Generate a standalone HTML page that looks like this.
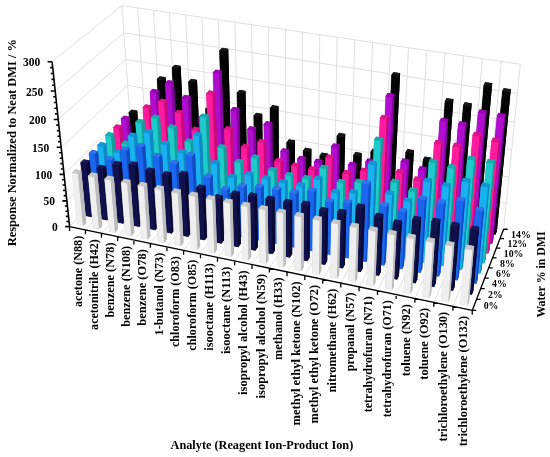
<!DOCTYPE html><html><head><meta charset="utf-8"><style>html,body{margin:0;padding:0;background:#fff;overflow:hidden}svg{display:block}</style></head><body><svg width="550" height="457" viewBox="0 0 550 457">
<rect width="550" height="457" fill="#fff"/>
<path d="M133.13 159.93L121.80 5.59M147.87 162.69L137.54 7.90M162.72 165.47L153.42 10.24M177.69 168.27L169.43 12.59M192.77 171.09L185.58 14.97M207.98 173.93L201.86 17.36M223.30 176.80L218.28 19.77M238.74 179.69L234.84 22.21M254.31 182.60L251.54 24.66M270.01 185.54L268.39 27.14M285.82 188.50L285.37 29.63M301.77 191.48L302.51 32.15M317.84 194.48L319.80 34.69M334.05 197.52L337.23 37.26M350.38 200.57L354.82 39.84M366.85 203.65L372.56 42.45M383.46 206.76L390.46 45.08M400.20 209.89L408.52 47.74M417.08 213.05L426.74 50.41M434.10 216.23L445.12 53.12M451.27 219.44L463.67 55.84M468.57 222.68L482.39 58.59M486.03 225.95L501.27 61.37M503.63 229.24L520.33 64.17M69.59 226.64L133.13 159.93L503.63 229.24M66.86 200.85L131.34 135.65L506.24 203.42M64.05 174.41L129.52 110.82L508.92 176.96M61.18 147.31L127.66 85.42L511.66 149.84M58.23 119.51L125.75 59.43L514.48 122.01M55.20 90.99L123.80 32.83L517.37 93.47M52.10 61.73L121.80 5.59L520.33 64.17M69.59 226.64L133.13 159.93M85.47 229.94L147.87 162.69M101.48 233.27L162.72 165.47M117.62 236.63L177.69 168.27M133.91 240.02L192.77 171.09M150.33 243.44L207.98 173.93M166.90 246.88L223.30 176.80M183.61 250.36L238.74 179.69M200.47 253.87L254.31 182.60M217.48 257.40L270.01 185.54M234.63 260.97L285.82 188.50M251.94 264.57L301.77 191.48M269.40 268.20L317.84 194.48M287.02 271.87L334.05 197.52M304.79 275.57L350.38 200.57M322.73 279.30L366.85 203.65M340.82 283.06L383.46 206.76M359.09 286.86L400.20 209.89M377.51 290.70L417.08 213.05M396.11 294.56L434.10 216.23M414.88 298.47L451.27 219.44M433.82 302.41L468.57 222.68M452.94 306.39L486.03 225.95M472.24 310.40L503.63 229.24" stroke="#e0e0e0" stroke-width="1" fill="none"/>
<polygon points="132.8,166.1 138.3,167.1 140.9,164.2 137.2,110.7 131.6,109.8 128.8,112.5" fill="#000000"/>
<polygon points="132.8,166.1 138.3,167.1 134.4,113.4 128.8,112.5" fill="#050505" stroke="#050505" stroke-width="0.35"/>
<polygon points="138.3,167.1 140.9,164.2 137.2,110.7 134.4,113.4" fill="#000000"/>
<polygon points="128.8,112.5 134.4,113.4 137.2,110.7 131.6,109.8" fill="#161616" stroke="#161616" stroke-width="0.35"/>
<polygon points="147.6,168.9 153.2,169.9 155.8,167.0 152.8,119.3 147.2,118.4 144.4,121.1" fill="#000000"/>
<polygon points="147.6,168.9 153.2,169.9 150.1,122.1 144.4,121.1" fill="#050505" stroke="#050505" stroke-width="0.35"/>
<polygon points="153.2,169.9 155.8,167.0 152.8,119.3 150.1,122.1" fill="#000000"/>
<polygon points="144.4,121.1 150.1,122.1 152.8,119.3 147.2,118.4" fill="#161616" stroke="#161616" stroke-width="0.35"/>
<polygon points="162.6,171.7 168.2,172.7 170.8,169.8 165.6,77.3 159.8,76.4 157.1,79.0" fill="#000000"/>
<polygon points="162.6,171.7 168.2,172.7 162.9,80.0 157.1,79.0" fill="#050505" stroke="#050505" stroke-width="0.35"/>
<polygon points="168.2,172.7 170.8,169.8 165.6,77.3 162.9,80.0" fill="#000000"/>
<polygon points="157.1,79.0 162.9,80.0 165.6,77.3 159.8,76.4" fill="#161616" stroke="#161616" stroke-width="0.35"/>
<polygon points="177.7,174.5 183.3,175.6 185.9,172.7 180.6,65.9 174.7,65.0 172.0,67.6" fill="#000000"/>
<polygon points="177.7,174.5 183.3,175.6 177.9,68.5 172.0,67.6" fill="#050505" stroke="#050505" stroke-width="0.35"/>
<polygon points="183.3,175.6 185.9,172.7 180.6,65.9 177.9,68.5" fill="#000000"/>
<polygon points="172.0,67.6 177.9,68.5 180.6,65.9 174.7,65.0" fill="#161616" stroke="#161616" stroke-width="0.35"/>
<polygon points="192.9,177.4 198.6,178.5 201.1,175.5 197.0,80.0 191.2,79.0 188.5,81.7" fill="#000000"/>
<polygon points="192.9,177.4 198.6,178.5 194.4,82.6 188.5,81.7" fill="#050505" stroke="#050505" stroke-width="0.35"/>
<polygon points="198.6,178.5 201.1,175.5 197.0,80.0 194.4,82.6" fill="#000000"/>
<polygon points="188.5,81.7 194.4,82.6 197.0,80.0 191.2,79.0" fill="#161616" stroke="#161616" stroke-width="0.35"/>
<polygon points="208.3,180.3 214.0,181.4 216.4,178.4 213.9,107.2 208.0,106.2 205.5,109.0" fill="#000000"/>
<polygon points="208.3,180.3 214.0,181.4 211.4,110.0 205.5,109.0" fill="#050505" stroke="#050505" stroke-width="0.35"/>
<polygon points="214.0,181.4 216.4,178.4 213.9,107.2 211.4,110.0" fill="#000000"/>
<polygon points="205.5,109.0 211.4,110.0 213.9,107.2 208.0,106.2" fill="#161616" stroke="#161616" stroke-width="0.35"/>
<polygon points="223.7,183.2 229.5,184.3 231.9,181.3 228.2,48.9 222.1,48.0 219.5,50.6" fill="#000000"/>
<polygon points="223.7,183.2 229.5,184.3 225.6,51.5 219.5,50.6" fill="#050505" stroke="#050505" stroke-width="0.35"/>
<polygon points="229.5,184.3 231.9,181.3 228.2,48.9 225.6,51.5" fill="#000000"/>
<polygon points="219.5,50.6 225.6,51.5 228.2,48.9 222.1,48.0" fill="#161616" stroke="#161616" stroke-width="0.35"/>
<polygon points="239.3,186.2 245.1,187.3 247.4,184.2 245.5,91.0 239.5,90.0 237.0,92.7" fill="#000000"/>
<polygon points="239.3,186.2 245.1,187.3 243.1,93.7 237.0,92.7" fill="#050505" stroke="#050505" stroke-width="0.35"/>
<polygon points="245.1,187.3 247.4,184.2 245.5,91.0 243.1,93.7" fill="#000000"/>
<polygon points="237.0,92.7 243.1,93.7 245.5,91.0 239.5,90.0" fill="#161616" stroke="#161616" stroke-width="0.35"/>
<polygon points="255.0,189.1 260.9,190.2 263.1,187.2 262.2,113.9 256.1,112.9 253.8,115.7" fill="#000000"/>
<polygon points="255.0,189.1 260.9,190.2 259.8,116.8 253.8,115.7" fill="#050505" stroke="#050505" stroke-width="0.35"/>
<polygon points="260.9,190.2 263.1,187.2 262.2,113.9 259.8,116.8" fill="#000000"/>
<polygon points="253.8,115.7 259.8,116.8 262.2,113.9 256.1,112.9" fill="#161616" stroke="#161616" stroke-width="0.35"/>
<polygon points="270.9,192.1 276.8,193.2 279.0,190.2 278.5,106.3 272.4,105.3 270.1,108.1" fill="#000000"/>
<polygon points="270.9,192.1 276.8,193.2 276.2,109.2 270.1,108.1" fill="#050505" stroke="#050505" stroke-width="0.35"/>
<polygon points="276.8,193.2 279.0,190.2 278.5,106.3 276.2,109.2" fill="#000000"/>
<polygon points="270.1,108.1 276.2,109.2 278.5,106.3 272.4,105.3" fill="#161616" stroke="#161616" stroke-width="0.35"/>
<polygon points="286.8,195.1 292.8,196.3 294.9,193.2 295.0,140.6 288.9,139.5 286.7,142.5" fill="#000000"/>
<polygon points="286.8,195.1 292.8,196.3 292.8,143.5 286.7,142.5" fill="#050505" stroke="#050505" stroke-width="0.35"/>
<polygon points="292.8,196.3 294.9,193.2 295.0,140.6 292.8,143.5" fill="#000000"/>
<polygon points="286.7,142.5 292.8,143.5 295.0,140.6 288.9,139.5" fill="#161616" stroke="#161616" stroke-width="0.35"/>
<polygon points="302.9,198.2 308.9,199.3 311.0,196.2 311.4,148.9 305.3,147.8 303.2,150.8" fill="#000000"/>
<polygon points="302.9,198.2 308.9,199.3 309.3,151.9 303.2,150.8" fill="#050505" stroke="#050505" stroke-width="0.35"/>
<polygon points="308.9,199.3 311.0,196.2 311.4,148.9 309.3,151.9" fill="#000000"/>
<polygon points="303.2,150.8 309.3,151.9 311.4,148.9 305.3,147.8" fill="#161616" stroke="#161616" stroke-width="0.35"/>
<polygon points="319.2,201.2 325.2,202.4 327.2,199.2 328.0,153.8 321.8,152.7 319.8,155.7" fill="#000000"/>
<polygon points="319.2,201.2 325.2,202.4 325.9,156.8 319.8,155.7" fill="#050505" stroke="#050505" stroke-width="0.35"/>
<polygon points="325.2,202.4 327.2,199.2 328.0,153.8 325.9,156.8" fill="#000000"/>
<polygon points="319.8,155.7 325.9,156.8 328.0,153.8 321.8,152.7" fill="#161616" stroke="#161616" stroke-width="0.35"/>
<polygon points="335.5,204.3 341.6,205.5 343.6,202.3 345.2,134.1 339.0,133.0 336.9,136.0" fill="#000000"/>
<polygon points="335.5,204.3 341.6,205.5 343.2,137.1 336.9,136.0" fill="#050505" stroke="#050505" stroke-width="0.35"/>
<polygon points="341.6,205.5 343.6,202.3 345.2,134.1 343.2,137.1" fill="#000000"/>
<polygon points="336.9,136.0 343.2,137.1 345.2,134.1 339.0,133.0" fill="#161616" stroke="#161616" stroke-width="0.35"/>
<polygon points="352.0,207.4 358.2,208.6 360.1,205.4 361.7,153.2 355.5,152.1 353.5,155.2" fill="#000000"/>
<polygon points="352.0,207.4 358.2,208.6 359.8,156.3 353.5,155.2" fill="#050505" stroke="#050505" stroke-width="0.35"/>
<polygon points="358.2,208.6 360.1,205.4 361.7,153.2 359.8,156.3" fill="#000000"/>
<polygon points="353.5,155.2 359.8,156.3 361.7,153.2 355.5,152.1" fill="#161616" stroke="#161616" stroke-width="0.35"/>
<polygon points="368.6,210.6 374.8,211.7 376.7,208.5 379.0,149.8 372.7,148.7 370.8,151.8" fill="#000000"/>
<polygon points="368.6,210.6 374.8,211.7 377.2,152.9 370.8,151.8" fill="#050505" stroke="#050505" stroke-width="0.35"/>
<polygon points="374.8,211.7 376.7,208.5 379.0,149.8 377.2,152.9" fill="#000000"/>
<polygon points="370.8,151.8 377.2,152.9 379.0,149.8 372.7,148.7" fill="#161616" stroke="#161616" stroke-width="0.35"/>
<polygon points="385.4,213.7 391.7,214.9 393.4,211.7 400.1,73.3 393.4,72.3 391.6,75.1" fill="#000000"/>
<polygon points="385.4,213.7 391.7,214.9 398.2,76.1 391.6,75.1" fill="#050505" stroke="#050505" stroke-width="0.35"/>
<polygon points="391.7,214.9 393.4,211.7 400.1,73.3 398.2,76.1" fill="#000000"/>
<polygon points="391.6,75.1 398.2,76.1 400.1,73.3 393.4,72.3" fill="#161616" stroke="#161616" stroke-width="0.35"/>
<polygon points="402.3,216.9 408.6,218.1 410.3,214.8 413.9,150.3 407.5,149.2 405.7,152.3" fill="#000000"/>
<polygon points="402.3,216.9 408.6,218.1 412.2,153.4 405.7,152.3" fill="#050505" stroke="#050505" stroke-width="0.35"/>
<polygon points="408.6,218.1 410.3,214.8 413.9,150.3 412.2,153.4" fill="#000000"/>
<polygon points="405.7,152.3 412.2,153.4 413.9,150.3 407.5,149.2" fill="#161616" stroke="#161616" stroke-width="0.35"/>
<polygon points="419.4,220.1 425.7,221.3 427.3,218.0 431.2,157.8 424.7,156.7 423.0,159.8" fill="#000000"/>
<polygon points="419.4,220.1 425.7,221.3 429.6,161.0 423.0,159.8" fill="#050505" stroke="#050505" stroke-width="0.35"/>
<polygon points="425.7,221.3 427.3,218.0 431.2,157.8 429.6,161.0" fill="#000000"/>
<polygon points="423.0,159.8 429.6,161.0 431.2,157.8 424.7,156.7" fill="#161616" stroke="#161616" stroke-width="0.35"/>
<polygon points="436.6,223.4 443.0,224.6 444.5,221.3 453.4,99.3 446.6,98.3 445.0,101.2" fill="#000000"/>
<polygon points="436.6,223.4 443.0,224.6 451.8,102.3 445.0,101.2" fill="#050505" stroke="#050505" stroke-width="0.35"/>
<polygon points="443.0,224.6 444.5,221.3 453.4,99.3 451.8,102.3" fill="#000000"/>
<polygon points="445.0,101.2 451.8,102.3 453.4,99.3 446.6,98.3" fill="#161616" stroke="#161616" stroke-width="0.35"/>
<polygon points="453.9,226.7 460.3,227.9 461.8,224.5 471.7,103.4 464.8,102.3 463.3,105.3" fill="#000000"/>
<polygon points="453.9,226.7 460.3,227.9 470.1,106.4 463.3,105.3" fill="#050505" stroke="#050505" stroke-width="0.35"/>
<polygon points="460.3,227.9 461.8,224.5 471.7,103.4 470.1,106.4" fill="#000000"/>
<polygon points="463.3,105.3 470.1,106.4 471.7,103.4 464.8,102.3" fill="#161616" stroke="#161616" stroke-width="0.35"/>
<polygon points="471.4,230.0 477.9,231.2 479.3,227.8 492.2,83.3 485.3,82.3 483.8,85.2" fill="#000000"/>
<polygon points="471.4,230.0 477.9,231.2 490.8,86.3 483.8,85.2" fill="#050505" stroke="#050505" stroke-width="0.35"/>
<polygon points="477.9,231.2 479.3,227.8 492.2,83.3 490.8,86.3" fill="#000000"/>
<polygon points="483.8,85.2 490.8,86.3 492.2,83.3 485.3,82.3" fill="#161616" stroke="#161616" stroke-width="0.35"/>
<polygon points="489.0,233.3 495.6,234.5 496.9,231.1 510.8,89.3 503.8,88.2 502.4,91.2" fill="#000000"/>
<polygon points="489.0,233.3 495.6,234.5 509.5,92.3 502.4,91.2" fill="#050505" stroke="#050505" stroke-width="0.35"/>
<polygon points="495.6,234.5 496.9,231.1 510.8,89.3 509.5,92.3" fill="#000000"/>
<polygon points="502.4,91.2 509.5,92.3 510.8,89.3 503.8,88.2" fill="#161616" stroke="#161616" stroke-width="0.35"/>
<polygon points="125.4,173.9 130.9,175.0 133.7,172.0 129.6,116.8 123.9,115.8 121.1,118.6" fill="#8600a2"/>
<polygon points="125.4,173.9 130.9,175.0 126.8,119.6 121.1,118.6" fill="#b00dd0" stroke="#b00dd0" stroke-width="0.35"/>
<polygon points="130.9,175.0 133.7,172.0 129.6,116.8 126.8,119.6" fill="#8600a2"/>
<polygon points="121.1,118.6 126.8,119.6 129.6,116.8 123.9,115.8" fill="#9a06b8" stroke="#9a06b8" stroke-width="0.35"/>
<polygon points="140.4,176.8 146.0,177.8 148.6,174.9 145.4,126.8 139.8,125.8 137.0,128.6" fill="#8600a2"/>
<polygon points="140.4,176.8 146.0,177.8 142.7,129.7 137.0,128.6" fill="#b00dd0" stroke="#b00dd0" stroke-width="0.35"/>
<polygon points="146.0,177.8 148.6,174.9 145.4,126.8 142.7,129.7" fill="#8600a2"/>
<polygon points="137.0,128.6 142.7,129.7 145.4,126.8 139.8,125.8" fill="#9a06b8" stroke="#9a06b8" stroke-width="0.35"/>
<polygon points="155.5,179.7 161.1,180.7 163.8,177.8 158.5,90.1 152.7,89.1 149.9,91.8" fill="#8600a2"/>
<polygon points="155.5,179.7 161.1,180.7 155.8,92.8 149.9,91.8" fill="#b00dd0" stroke="#b00dd0" stroke-width="0.35"/>
<polygon points="161.1,180.7 163.8,177.8 158.5,90.1 155.8,92.8" fill="#8600a2"/>
<polygon points="149.9,91.8 155.8,92.8 158.5,90.1 152.7,89.1" fill="#9a06b8" stroke="#9a06b8" stroke-width="0.35"/>
<polygon points="170.7,182.6 176.4,183.7 179.0,180.7 173.8,81.3 167.9,80.3 165.1,83.0" fill="#8600a2"/>
<polygon points="170.7,182.6 176.4,183.7 171.0,84.0 165.1,83.0" fill="#b00dd0" stroke="#b00dd0" stroke-width="0.35"/>
<polygon points="176.4,183.7 179.0,180.7 173.8,81.3 171.0,84.0" fill="#8600a2"/>
<polygon points="165.1,83.0 171.0,84.0 173.8,81.3 167.9,80.3" fill="#9a06b8" stroke="#9a06b8" stroke-width="0.35"/>
<polygon points="186.1,185.5 191.8,186.6 194.3,183.6 190.4,96.0 184.4,95.0 181.8,97.8" fill="#8600a2"/>
<polygon points="186.1,185.5 191.8,186.6 187.7,98.8 181.8,97.8" fill="#b00dd0" stroke="#b00dd0" stroke-width="0.35"/>
<polygon points="191.8,186.6 194.3,183.6 190.4,96.0 187.7,98.8" fill="#8600a2"/>
<polygon points="181.8,97.8 187.7,98.8 190.4,96.0 184.4,95.0" fill="#9a06b8" stroke="#9a06b8" stroke-width="0.35"/>
<polygon points="201.6,188.5 207.4,189.6 209.8,186.5 207.1,115.6 201.2,114.6 198.6,117.4" fill="#8600a2"/>
<polygon points="201.6,188.5 207.4,189.6 204.5,118.4 198.6,117.4" fill="#b00dd0" stroke="#b00dd0" stroke-width="0.35"/>
<polygon points="207.4,189.6 209.8,186.5 207.1,115.6 204.5,118.4" fill="#8600a2"/>
<polygon points="198.6,117.4 204.5,118.4 207.1,115.6 201.2,114.6" fill="#9a06b8" stroke="#9a06b8" stroke-width="0.35"/>
<polygon points="217.2,191.4 223.0,192.6 225.4,189.5 221.7,70.7 215.6,69.8 213.0,72.5" fill="#8600a2"/>
<polygon points="217.2,191.4 223.0,192.6 219.2,73.5 213.0,72.5" fill="#b00dd0" stroke="#b00dd0" stroke-width="0.35"/>
<polygon points="223.0,192.6 225.4,189.5 221.7,70.7 219.2,73.5" fill="#8600a2"/>
<polygon points="213.0,72.5 219.2,73.5 221.7,70.7 215.6,69.8" fill="#9a06b8" stroke="#9a06b8" stroke-width="0.35"/>
<polygon points="232.9,194.5 238.8,195.6 241.2,192.5 239.1,108.0 233.1,107.0 230.6,109.9" fill="#8600a2"/>
<polygon points="232.9,194.5 238.8,195.6 236.7,110.9 230.6,109.9" fill="#b00dd0" stroke="#b00dd0" stroke-width="0.35"/>
<polygon points="238.8,195.6 241.2,192.5 239.1,108.0 236.7,110.9" fill="#8600a2"/>
<polygon points="230.6,109.9 236.7,110.9 239.1,108.0 233.1,107.0" fill="#9a06b8" stroke="#9a06b8" stroke-width="0.35"/>
<polygon points="248.8,197.5 254.7,198.6 257.0,195.5 255.9,127.4 249.8,126.3 247.4,129.2" fill="#8600a2"/>
<polygon points="248.8,197.5 254.7,198.6 253.5,130.3 247.4,129.2" fill="#b00dd0" stroke="#b00dd0" stroke-width="0.35"/>
<polygon points="254.7,198.6 257.0,195.5 255.9,127.4 253.5,130.3" fill="#8600a2"/>
<polygon points="247.4,129.2 253.5,130.3 255.9,127.4 249.8,126.3" fill="#9a06b8" stroke="#9a06b8" stroke-width="0.35"/>
<polygon points="264.8,200.5 270.7,201.7 273.0,198.5 272.3,122.3 266.2,121.3 263.8,124.2" fill="#8600a2"/>
<polygon points="264.8,200.5 270.7,201.7 270.0,125.3 263.8,124.2" fill="#b00dd0" stroke="#b00dd0" stroke-width="0.35"/>
<polygon points="270.7,201.7 273.0,198.5 272.3,122.3 270.0,125.3" fill="#8600a2"/>
<polygon points="263.8,124.2 270.0,125.3 272.3,122.3 266.2,121.3" fill="#9a06b8" stroke="#9a06b8" stroke-width="0.35"/>
<polygon points="280.9,203.6 286.9,204.8 289.1,201.6 289.0,149.4 282.9,148.3 280.6,151.3" fill="#8600a2"/>
<polygon points="280.9,203.6 286.9,204.8 286.8,152.4 280.6,151.3" fill="#b00dd0" stroke="#b00dd0" stroke-width="0.35"/>
<polygon points="286.9,204.8 289.1,201.6 289.0,149.4 286.8,152.4" fill="#8600a2"/>
<polygon points="280.6,151.3 286.8,152.4 289.0,149.4 282.9,148.3" fill="#9a06b8" stroke="#9a06b8" stroke-width="0.35"/>
<polygon points="297.2,206.7 303.2,207.9 305.3,204.7 305.7,157.0 299.5,155.9 297.3,159.0" fill="#8600a2"/>
<polygon points="297.2,206.7 303.2,207.9 303.5,160.1 297.3,159.0" fill="#b00dd0" stroke="#b00dd0" stroke-width="0.35"/>
<polygon points="303.2,207.9 305.3,204.7 305.7,157.0 303.5,160.1" fill="#8600a2"/>
<polygon points="297.3,159.0 303.5,160.1 305.7,157.0 299.5,155.9" fill="#9a06b8" stroke="#9a06b8" stroke-width="0.35"/>
<polygon points="313.6,209.9 319.7,211.0 321.7,207.8 322.4,159.9 316.2,158.8 314.1,161.9" fill="#8600a2"/>
<polygon points="313.6,209.9 319.7,211.0 320.3,163.0 314.1,161.9" fill="#b00dd0" stroke="#b00dd0" stroke-width="0.35"/>
<polygon points="319.7,211.0 321.7,207.8 322.4,159.9 320.3,163.0" fill="#8600a2"/>
<polygon points="314.1,161.9 320.3,163.0 322.4,159.9 316.2,158.8" fill="#9a06b8" stroke="#9a06b8" stroke-width="0.35"/>
<polygon points="330.1,213.0 336.2,214.2 338.2,210.9 339.7,144.6 333.4,143.5 331.3,146.6" fill="#8600a2"/>
<polygon points="330.1,213.0 336.2,214.2 337.6,147.7 331.3,146.6" fill="#b00dd0" stroke="#b00dd0" stroke-width="0.35"/>
<polygon points="336.2,214.2 338.2,210.9 339.7,144.6 337.6,147.7" fill="#8600a2"/>
<polygon points="331.3,146.6 337.6,147.7 339.7,144.6 333.4,143.5" fill="#9a06b8" stroke="#9a06b8" stroke-width="0.35"/>
<polygon points="346.8,216.2 353.0,217.4 354.9,214.1 356.4,163.0 350.1,161.9 348.1,165.0" fill="#8600a2"/>
<polygon points="346.8,216.2 353.0,217.4 354.4,166.2 348.1,165.0" fill="#b00dd0" stroke="#b00dd0" stroke-width="0.35"/>
<polygon points="353.0,217.4 354.9,214.1 356.4,163.0 354.4,166.2" fill="#8600a2"/>
<polygon points="348.1,165.0 354.4,166.2 356.4,163.0 350.1,161.9" fill="#9a06b8" stroke="#9a06b8" stroke-width="0.35"/>
<polygon points="363.6,219.4 369.8,220.6 371.7,217.3 373.9,159.7 367.5,158.6 365.5,161.8" fill="#8600a2"/>
<polygon points="363.6,219.4 369.8,220.6 372.0,162.9 365.5,161.8" fill="#b00dd0" stroke="#b00dd0" stroke-width="0.35"/>
<polygon points="369.8,220.6 371.7,217.3 373.9,159.7 372.0,162.9" fill="#8600a2"/>
<polygon points="365.5,161.8 372.0,162.9 373.9,159.7 367.5,158.6" fill="#9a06b8" stroke="#9a06b8" stroke-width="0.35"/>
<polygon points="380.5,222.7 386.8,223.9 388.6,220.5 394.4,94.1 387.8,93.1 385.8,96.0" fill="#8600a2"/>
<polygon points="380.5,222.7 386.8,223.9 392.5,97.1 385.8,96.0" fill="#b00dd0" stroke="#b00dd0" stroke-width="0.35"/>
<polygon points="386.8,223.9 388.6,220.5 394.4,94.1 392.5,97.1" fill="#8600a2"/>
<polygon points="385.8,96.0 392.5,97.1 394.4,94.1 387.8,93.1" fill="#9a06b8" stroke="#9a06b8" stroke-width="0.35"/>
<polygon points="397.6,225.9 403.9,227.1 405.7,223.8 409.2,159.7 402.6,158.6 400.8,161.7" fill="#8600a2"/>
<polygon points="397.6,225.9 403.9,227.1 407.4,162.9 400.8,161.7" fill="#b00dd0" stroke="#b00dd0" stroke-width="0.35"/>
<polygon points="403.9,227.1 405.7,223.8 409.2,159.7 407.4,162.9" fill="#8600a2"/>
<polygon points="400.8,161.7 407.4,162.9 409.2,159.7 402.6,158.6" fill="#9a06b8" stroke="#9a06b8" stroke-width="0.35"/>
<polygon points="414.8,229.2 421.2,230.4 422.9,227.0 426.6,167.3 420.1,166.2 418.3,169.4" fill="#8600a2"/>
<polygon points="414.8,229.2 421.2,230.4 424.9,170.6 418.3,169.4" fill="#b00dd0" stroke="#b00dd0" stroke-width="0.35"/>
<polygon points="421.2,230.4 422.9,227.0 426.6,167.3 424.9,170.6" fill="#8600a2"/>
<polygon points="418.3,169.4 424.9,170.6 426.6,167.3 420.1,166.2" fill="#9a06b8" stroke="#9a06b8" stroke-width="0.35"/>
<polygon points="432.2,232.5 438.7,233.8 440.3,230.4 448.2,119.0 441.4,117.9 439.7,121.0" fill="#8600a2"/>
<polygon points="432.2,232.5 438.7,233.8 446.5,122.1 439.7,121.0" fill="#b00dd0" stroke="#b00dd0" stroke-width="0.35"/>
<polygon points="438.7,233.8 440.3,230.4 448.2,119.0 446.5,122.1" fill="#8600a2"/>
<polygon points="439.7,121.0 446.5,122.1 448.2,119.0 441.4,117.9" fill="#9a06b8" stroke="#9a06b8" stroke-width="0.35"/>
<polygon points="449.7,235.9 456.2,237.1 457.8,233.7 466.6,122.4 459.8,121.3 458.2,124.4" fill="#8600a2"/>
<polygon points="449.7,235.9 456.2,237.1 465.0,125.5 458.2,124.4" fill="#b00dd0" stroke="#b00dd0" stroke-width="0.35"/>
<polygon points="456.2,237.1 457.8,233.7 466.6,122.4 465.0,125.5" fill="#8600a2"/>
<polygon points="458.2,124.4 465.0,125.5 466.6,122.4 459.8,121.3" fill="#9a06b8" stroke="#9a06b8" stroke-width="0.35"/>
<polygon points="467.4,239.3 474.0,240.5 475.4,237.0 486.6,110.7 479.6,109.6 478.1,112.7" fill="#8600a2"/>
<polygon points="467.4,239.3 474.0,240.5 485.1,113.8 478.1,112.7" fill="#b00dd0" stroke="#b00dd0" stroke-width="0.35"/>
<polygon points="474.0,240.5 475.4,237.0 486.6,110.7 485.1,113.8" fill="#8600a2"/>
<polygon points="478.1,112.7 485.1,113.8 486.6,110.7 479.6,109.6" fill="#9a06b8" stroke="#9a06b8" stroke-width="0.35"/>
<polygon points="485.2,242.7 491.9,243.9 493.2,240.4 505.5,114.1 498.4,112.9 497.0,116.1" fill="#8600a2"/>
<polygon points="485.2,242.7 491.9,243.9 504.1,117.2 497.0,116.1" fill="#b00dd0" stroke="#b00dd0" stroke-width="0.35"/>
<polygon points="491.9,243.9 493.2,240.4 505.5,114.1 504.1,117.2" fill="#8600a2"/>
<polygon points="497.0,116.1 504.1,117.2 505.5,114.1 498.4,112.9" fill="#9a06b8" stroke="#9a06b8" stroke-width="0.35"/>
<polygon points="117.8,181.9 123.4,183.0 126.2,180.0 122.0,125.6 116.3,124.5 113.4,127.4" fill="#c50c78"/>
<polygon points="117.8,181.9 123.4,183.0 119.1,128.4 113.4,127.4" fill="#ff1a9e" stroke="#ff1a9e" stroke-width="0.35"/>
<polygon points="123.4,183.0 126.2,180.0 122.0,125.6 119.1,128.4" fill="#c50c78"/>
<polygon points="113.4,127.4 119.1,128.4 122.0,125.6 116.3,124.5" fill="#e0138a" stroke="#e0138a" stroke-width="0.35"/>
<polygon points="133.0,184.8 138.6,185.9 141.3,182.9 137.9,134.5 132.2,133.5 129.3,136.3" fill="#c50c78"/>
<polygon points="133.0,184.8 138.6,185.9 135.1,137.4 129.3,136.3" fill="#ff1a9e" stroke="#ff1a9e" stroke-width="0.35"/>
<polygon points="138.6,185.9 141.3,182.9 137.9,134.5 135.1,137.4" fill="#c50c78"/>
<polygon points="129.3,136.3 135.1,137.4 137.9,134.5 132.2,133.5" fill="#e0138a" stroke="#e0138a" stroke-width="0.35"/>
<polygon points="148.2,187.8 153.9,188.9 156.6,185.9 151.5,105.4 145.6,104.4 142.8,107.2" fill="#c50c78"/>
<polygon points="148.2,187.8 153.9,188.9 148.7,108.2 142.8,107.2" fill="#ff1a9e" stroke="#ff1a9e" stroke-width="0.35"/>
<polygon points="153.9,188.9 156.6,185.9 151.5,105.4 148.7,108.2" fill="#c50c78"/>
<polygon points="142.8,107.2 148.7,108.2 151.5,105.4 145.6,104.4" fill="#e0138a" stroke="#e0138a" stroke-width="0.35"/>
<polygon points="163.6,190.8 169.3,191.9 172.0,188.8 167.0,99.7 161.0,98.7 158.2,101.5" fill="#c50c78"/>
<polygon points="163.6,190.8 169.3,191.9 164.2,102.5 158.2,101.5" fill="#ff1a9e" stroke="#ff1a9e" stroke-width="0.35"/>
<polygon points="169.3,191.9 172.0,188.8 167.0,99.7 164.2,102.5" fill="#c50c78"/>
<polygon points="158.2,101.5 164.2,102.5 167.0,99.7 161.0,98.7" fill="#e0138a" stroke="#e0138a" stroke-width="0.35"/>
<polygon points="179.1,193.8 184.9,194.9 187.5,191.8 183.5,110.9 177.5,109.9 174.8,112.7" fill="#c50c78"/>
<polygon points="179.1,193.8 184.9,194.9 180.8,113.8 174.8,112.7" fill="#ff1a9e" stroke="#ff1a9e" stroke-width="0.35"/>
<polygon points="184.9,194.9 187.5,191.8 183.5,110.9 180.8,113.8" fill="#c50c78"/>
<polygon points="174.8,112.7 180.8,113.8 183.5,110.9 177.5,109.9" fill="#e0138a" stroke="#e0138a" stroke-width="0.35"/>
<polygon points="194.7,196.8 200.6,197.9 203.1,194.8 200.3,127.9 194.3,126.8 191.7,129.7" fill="#c50c78"/>
<polygon points="194.7,196.8 200.6,197.9 197.7,130.8 191.7,129.7" fill="#ff1a9e" stroke="#ff1a9e" stroke-width="0.35"/>
<polygon points="200.6,197.9 203.1,194.8 200.3,127.9 197.7,130.8" fill="#c50c78"/>
<polygon points="191.7,129.7 197.7,130.8 200.3,127.9 194.3,126.8" fill="#e0138a" stroke="#e0138a" stroke-width="0.35"/>
<polygon points="210.5,199.9 216.4,201.0 218.8,197.8 215.2,91.6 209.1,90.6 206.4,93.4" fill="#c50c78"/>
<polygon points="210.5,199.9 216.4,201.0 212.6,94.4 206.4,93.4" fill="#ff1a9e" stroke="#ff1a9e" stroke-width="0.35"/>
<polygon points="216.4,201.0 218.8,197.8 215.2,91.6 212.6,94.4" fill="#c50c78"/>
<polygon points="206.4,93.4 212.6,94.4 215.2,91.6 209.1,90.6" fill="#e0138a" stroke="#e0138a" stroke-width="0.35"/>
<polygon points="226.4,202.9 232.3,204.1 234.7,200.9 232.7,127.4 226.6,126.3 224.1,129.3" fill="#c50c78"/>
<polygon points="226.4,202.9 232.3,204.1 230.2,130.3 224.1,129.3" fill="#ff1a9e" stroke="#ff1a9e" stroke-width="0.35"/>
<polygon points="232.3,204.1 234.7,200.9 232.7,127.4 230.2,130.3" fill="#c50c78"/>
<polygon points="224.1,129.3 230.2,130.3 232.7,127.4 226.6,126.3" fill="#e0138a" stroke="#e0138a" stroke-width="0.35"/>
<polygon points="242.4,206.0 248.4,207.2 250.7,204.0 249.6,145.0 243.5,143.9 241.0,146.9" fill="#c50c78"/>
<polygon points="242.4,206.0 248.4,207.2 247.2,148.0 241.0,146.9" fill="#ff1a9e" stroke="#ff1a9e" stroke-width="0.35"/>
<polygon points="248.4,207.2 250.7,204.0 249.6,145.0 247.2,148.0" fill="#c50c78"/>
<polygon points="241.0,146.9 247.2,148.0 249.6,145.0 243.5,143.9" fill="#e0138a" stroke="#e0138a" stroke-width="0.35"/>
<polygon points="258.6,209.2 264.6,210.3 266.9,207.1 266.1,140.2 259.9,139.1 257.5,142.1" fill="#c50c78"/>
<polygon points="258.6,209.2 264.6,210.3 263.7,143.2 257.5,142.1" fill="#ff1a9e" stroke="#ff1a9e" stroke-width="0.35"/>
<polygon points="264.6,210.3 266.9,207.1 266.1,140.2 263.7,143.2" fill="#c50c78"/>
<polygon points="257.5,142.1 263.7,143.2 266.1,140.2 259.9,139.1" fill="#e0138a" stroke="#e0138a" stroke-width="0.35"/>
<polygon points="274.8,212.3 280.9,213.5 283.1,210.2 282.9,159.2 276.8,158.1 274.4,161.2" fill="#c50c78"/>
<polygon points="274.8,212.3 280.9,213.5 280.6,162.3 274.4,161.2" fill="#ff1a9e" stroke="#ff1a9e" stroke-width="0.35"/>
<polygon points="280.9,213.5 283.1,210.2 282.9,159.2 280.6,162.3" fill="#c50c78"/>
<polygon points="274.4,161.2 280.6,162.3 282.9,159.2 276.8,158.1" fill="#e0138a" stroke="#e0138a" stroke-width="0.35"/>
<polygon points="291.3,215.5 297.4,216.7 299.6,213.4 299.7,163.7 293.5,162.5 291.3,165.7" fill="#c50c78"/>
<polygon points="291.3,215.5 297.4,216.7 297.5,166.8 291.3,165.7" fill="#ff1a9e" stroke="#ff1a9e" stroke-width="0.35"/>
<polygon points="297.4,216.7 299.6,213.4 299.7,163.7 297.5,166.8" fill="#c50c78"/>
<polygon points="291.3,165.7 297.5,166.8 299.7,163.7 293.5,162.5" fill="#e0138a" stroke="#e0138a" stroke-width="0.35"/>
<polygon points="307.8,218.7 314.0,219.9 316.1,216.6 316.7,167.3 310.4,166.2 308.2,169.4" fill="#c50c78"/>
<polygon points="307.8,218.7 314.0,219.9 314.5,170.5 308.2,169.4" fill="#ff1a9e" stroke="#ff1a9e" stroke-width="0.35"/>
<polygon points="314.0,219.9 316.1,216.6 316.7,167.3 314.5,170.5" fill="#c50c78"/>
<polygon points="308.2,169.4 314.5,170.5 316.7,167.3 310.4,166.2" fill="#e0138a" stroke="#e0138a" stroke-width="0.35"/>
<polygon points="324.5,221.9 330.7,223.1 332.8,219.8 334.0,155.5 327.7,154.4 325.5,157.5" fill="#c50c78"/>
<polygon points="324.5,221.9 330.7,223.1 331.9,158.7 325.5,157.5" fill="#ff1a9e" stroke="#ff1a9e" stroke-width="0.35"/>
<polygon points="330.7,223.1 332.8,219.8 334.0,155.5 331.9,158.7" fill="#c50c78"/>
<polygon points="325.5,157.5 331.9,158.7 334.0,155.5 327.7,154.4" fill="#e0138a" stroke="#e0138a" stroke-width="0.35"/>
<polygon points="341.4,225.2 347.6,226.4 349.6,223.0 351.0,171.1 344.6,170.0 342.6,173.2" fill="#c50c78"/>
<polygon points="341.4,225.2 347.6,226.4 349.0,174.3 342.6,173.2" fill="#ff1a9e" stroke="#ff1a9e" stroke-width="0.35"/>
<polygon points="347.6,226.4 349.6,223.0 351.0,171.1 349.0,174.3" fill="#c50c78"/>
<polygon points="342.6,173.2 349.0,174.3 351.0,171.1 344.6,170.0" fill="#e0138a" stroke="#e0138a" stroke-width="0.35"/>
<polygon points="358.3,228.5 364.7,229.7 366.6,226.3 368.6,168.9 362.2,167.8 360.2,171.0" fill="#c50c78"/>
<polygon points="358.3,228.5 364.7,229.7 366.7,172.2 360.2,171.0" fill="#ff1a9e" stroke="#ff1a9e" stroke-width="0.35"/>
<polygon points="364.7,229.7 366.6,226.3 368.6,168.9 366.7,172.2" fill="#c50c78"/>
<polygon points="360.2,171.0 366.7,172.2 368.6,168.9 362.2,167.8" fill="#e0138a" stroke="#e0138a" stroke-width="0.35"/>
<polygon points="375.5,231.8 381.8,233.0 383.7,229.6 388.7,116.0 382.0,114.9 380.0,118.0" fill="#c50c78"/>
<polygon points="375.5,231.8 381.8,233.0 386.7,119.1 380.0,118.0" fill="#ff1a9e" stroke="#ff1a9e" stroke-width="0.35"/>
<polygon points="381.8,233.0 383.7,229.6 388.7,116.0 386.7,119.1" fill="#c50c78"/>
<polygon points="380.0,118.0 386.7,119.1 388.7,116.0 382.0,114.9" fill="#e0138a" stroke="#e0138a" stroke-width="0.35"/>
<polygon points="392.7,235.1 399.2,236.4 400.9,232.9 404.2,170.3 397.6,169.1 395.8,172.4" fill="#c50c78"/>
<polygon points="392.7,235.1 399.2,236.4 402.4,173.5 395.8,172.4" fill="#ff1a9e" stroke="#ff1a9e" stroke-width="0.35"/>
<polygon points="399.2,236.4 400.9,232.9 404.2,170.3 402.4,173.5" fill="#c50c78"/>
<polygon points="395.8,172.4 402.4,173.5 404.2,170.3 397.6,169.1" fill="#e0138a" stroke="#e0138a" stroke-width="0.35"/>
<polygon points="410.2,238.5 416.6,239.8 418.3,236.3 421.9,177.7 415.3,176.5 413.5,179.8" fill="#c50c78"/>
<polygon points="410.2,238.5 416.6,239.8 420.2,181.0 413.5,179.8" fill="#ff1a9e" stroke="#ff1a9e" stroke-width="0.35"/>
<polygon points="416.6,239.8 418.3,236.3 421.9,177.7 420.2,181.0" fill="#c50c78"/>
<polygon points="413.5,179.8 420.2,181.0 421.9,177.7 415.3,176.5" fill="#e0138a" stroke="#e0138a" stroke-width="0.35"/>
<polygon points="427.7,241.9 434.3,243.2 435.9,239.7 442.7,141.1 435.9,140.0 434.2,143.2" fill="#c50c78"/>
<polygon points="427.7,241.9 434.3,243.2 441.0,144.3 434.2,143.2" fill="#ff1a9e" stroke="#ff1a9e" stroke-width="0.35"/>
<polygon points="434.3,243.2 435.9,239.7 442.7,141.1 441.0,144.3" fill="#c50c78"/>
<polygon points="434.2,143.2 441.0,144.3 442.7,141.1 435.9,140.0" fill="#e0138a" stroke="#e0138a" stroke-width="0.35"/>
<polygon points="445.4,245.3 452.0,246.6 453.6,243.1 461.3,143.9 454.4,142.8 452.8,146.0" fill="#c50c78"/>
<polygon points="445.4,245.3 452.0,246.6 459.7,147.2 452.8,146.0" fill="#ff1a9e" stroke="#ff1a9e" stroke-width="0.35"/>
<polygon points="452.0,246.6 453.6,243.1 461.3,143.9 459.7,147.2" fill="#c50c78"/>
<polygon points="452.8,146.0 459.7,147.2 461.3,143.9 454.4,142.8" fill="#e0138a" stroke="#e0138a" stroke-width="0.35"/>
<polygon points="463.3,248.8 470.0,250.1 471.5,246.5 481.3,133.0 474.3,131.9 472.7,135.1" fill="#c50c78"/>
<polygon points="463.3,248.8 470.0,250.1 479.8,136.2 472.7,135.1" fill="#ff1a9e" stroke="#ff1a9e" stroke-width="0.35"/>
<polygon points="470.0,250.1 471.5,246.5 481.3,133.0 479.8,136.2" fill="#c50c78"/>
<polygon points="472.7,135.1 479.8,136.2 481.3,133.0 474.3,131.9" fill="#e0138a" stroke="#e0138a" stroke-width="0.35"/>
<polygon points="481.3,252.3 488.1,253.6 489.5,250.0 500.1,138.9 493.0,137.8 491.5,141.0" fill="#c50c78"/>
<polygon points="481.3,252.3 488.1,253.6 498.6,142.2 491.5,141.0" fill="#ff1a9e" stroke="#ff1a9e" stroke-width="0.35"/>
<polygon points="488.1,253.6 489.5,250.0 500.1,138.9 498.6,142.2" fill="#c50c78"/>
<polygon points="491.5,141.0 498.6,142.2 500.1,138.9 493.0,137.8" fill="#e0138a" stroke="#e0138a" stroke-width="0.35"/>
<polygon points="110.1,190.1 115.7,191.2 118.6,188.1 114.1,133.3 108.4,132.2 105.4,135.1" fill="#129c9c"/>
<polygon points="110.1,190.1 115.7,191.2 111.2,136.2 105.4,135.1" fill="#1fcaca" stroke="#1fcaca" stroke-width="0.35"/>
<polygon points="115.7,191.2 118.6,188.1 114.1,133.3 111.2,136.2" fill="#129c9c"/>
<polygon points="105.4,135.1 111.2,136.2 114.1,133.3 108.4,132.2" fill="#19acac" stroke="#19acac" stroke-width="0.35"/>
<polygon points="125.4,193.1 131.0,194.2 133.9,191.1 130.2,141.6 124.4,140.5 121.5,143.4" fill="#129c9c"/>
<polygon points="125.4,193.1 131.0,194.2 127.3,144.5 121.5,143.4" fill="#1fcaca" stroke="#1fcaca" stroke-width="0.35"/>
<polygon points="131.0,194.2 133.9,191.1 130.2,141.6 127.3,144.5" fill="#129c9c"/>
<polygon points="121.5,143.4 127.3,144.5 130.2,141.6 124.4,140.5" fill="#19acac" stroke="#19acac" stroke-width="0.35"/>
<polygon points="140.8,196.1 146.5,197.2 149.2,194.1 144.3,120.1 138.4,119.1 135.5,122.0" fill="#129c9c"/>
<polygon points="140.8,196.1 146.5,197.2 141.4,123.0 135.5,122.0" fill="#1fcaca" stroke="#1fcaca" stroke-width="0.35"/>
<polygon points="146.5,197.2 149.2,194.1 144.3,120.1 141.4,123.0" fill="#129c9c"/>
<polygon points="135.5,122.0 141.4,123.0 144.3,120.1 138.4,119.1" fill="#19acac" stroke="#19acac" stroke-width="0.35"/>
<polygon points="156.3,199.2 162.1,200.3 164.8,197.2 159.9,115.8 153.9,114.7 151.1,117.6" fill="#129c9c"/>
<polygon points="156.3,199.2 162.1,200.3 157.1,118.7 151.1,117.6" fill="#1fcaca" stroke="#1fcaca" stroke-width="0.35"/>
<polygon points="162.1,200.3 164.8,197.2 159.9,115.8 157.1,118.7" fill="#129c9c"/>
<polygon points="151.1,117.6 157.1,118.7 159.9,115.8 153.9,114.7" fill="#19acac" stroke="#19acac" stroke-width="0.35"/>
<polygon points="171.9,202.2 177.8,203.4 180.4,200.2 176.5,125.5 170.5,124.5 167.7,127.4" fill="#129c9c"/>
<polygon points="171.9,202.2 177.8,203.4 173.7,128.5 167.7,127.4" fill="#1fcaca" stroke="#1fcaca" stroke-width="0.35"/>
<polygon points="177.8,203.4 180.4,200.2 176.5,125.5 173.7,128.5" fill="#129c9c"/>
<polygon points="167.7,127.4 173.7,128.5 176.5,125.5 170.5,124.5" fill="#19acac" stroke="#19acac" stroke-width="0.35"/>
<polygon points="187.7,205.3 193.6,206.5 196.2,203.3 193.3,139.6 187.3,138.5 184.6,141.5" fill="#129c9c"/>
<polygon points="187.7,205.3 193.6,206.5 190.6,142.6 184.6,141.5" fill="#1fcaca" stroke="#1fcaca" stroke-width="0.35"/>
<polygon points="193.6,206.5 196.2,203.3 193.3,139.6 190.6,142.6" fill="#129c9c"/>
<polygon points="184.6,141.5 190.6,142.6 193.3,139.6 187.3,138.5" fill="#19acac" stroke="#19acac" stroke-width="0.35"/>
<polygon points="203.6,208.5 209.6,209.6 212.1,206.4 208.6,114.8 202.5,113.7 199.8,116.6" fill="#129c9c"/>
<polygon points="203.6,208.5 209.6,209.6 206.0,117.7 199.8,116.6" fill="#1fcaca" stroke="#1fcaca" stroke-width="0.35"/>
<polygon points="209.6,209.6 212.1,206.4 208.6,114.8 206.0,117.7" fill="#129c9c"/>
<polygon points="199.8,116.6 206.0,117.7 208.6,114.8 202.5,113.7" fill="#19acac" stroke="#19acac" stroke-width="0.35"/>
<polygon points="219.7,211.6 225.7,212.8 228.1,209.5 226.2,145.3 220.1,144.2 217.5,147.2" fill="#129c9c"/>
<polygon points="219.7,211.6 225.7,212.8 223.6,148.3 217.5,147.2" fill="#1fcaca" stroke="#1fcaca" stroke-width="0.35"/>
<polygon points="225.7,212.8 228.1,209.5 226.2,145.3 223.6,148.3" fill="#129c9c"/>
<polygon points="217.5,147.2 223.6,148.3 226.2,145.3 220.1,144.2" fill="#19acac" stroke="#19acac" stroke-width="0.35"/>
<polygon points="235.9,214.8 241.9,216.0 244.3,212.7 243.1,160.1 237.0,159.0 234.5,162.1" fill="#129c9c"/>
<polygon points="235.9,214.8 241.9,216.0 240.6,163.2 234.5,162.1" fill="#1fcaca" stroke="#1fcaca" stroke-width="0.35"/>
<polygon points="241.9,216.0 244.3,212.7 243.1,160.1 240.6,163.2" fill="#129c9c"/>
<polygon points="234.5,162.1 240.6,163.2 243.1,160.1 237.0,159.0" fill="#19acac" stroke="#19acac" stroke-width="0.35"/>
<polygon points="252.2,218.0 258.3,219.2 260.6,215.9 259.7,155.5 253.5,154.4 251.0,157.5" fill="#129c9c"/>
<polygon points="252.2,218.0 258.3,219.2 257.3,158.7 251.0,157.5" fill="#1fcaca" stroke="#1fcaca" stroke-width="0.35"/>
<polygon points="258.3,219.2 260.6,215.9 259.7,155.5 257.3,158.7" fill="#129c9c"/>
<polygon points="251.0,157.5 257.3,158.7 259.7,155.5 253.5,154.4" fill="#19acac" stroke="#19acac" stroke-width="0.35"/>
<polygon points="268.6,221.2 274.8,222.4 277.1,219.1 276.7,168.0 270.4,166.9 268.1,170.0" fill="#129c9c"/>
<polygon points="268.6,221.2 274.8,222.4 274.3,171.2 268.1,170.0" fill="#1fcaca" stroke="#1fcaca" stroke-width="0.35"/>
<polygon points="274.8,222.4 277.1,219.1 276.7,168.0 274.3,171.2" fill="#129c9c"/>
<polygon points="268.1,170.0 274.3,171.2 276.7,168.0 270.4,166.9" fill="#19acac" stroke="#19acac" stroke-width="0.35"/>
<polygon points="285.2,224.5 291.4,225.7 293.6,222.3 293.7,173.0 287.4,171.9 285.1,175.1" fill="#129c9c"/>
<polygon points="285.2,224.5 291.4,225.7 291.4,176.2 285.1,175.1" fill="#1fcaca" stroke="#1fcaca" stroke-width="0.35"/>
<polygon points="291.4,225.7 293.6,222.3 293.7,173.0 291.4,176.2" fill="#129c9c"/>
<polygon points="285.1,175.1 291.4,176.2 293.7,173.0 287.4,171.9" fill="#19acac" stroke="#19acac" stroke-width="0.35"/>
<polygon points="302.0,227.7 308.2,229.0 310.3,225.6 310.8,176.2 304.4,175.0 302.2,178.2" fill="#129c9c"/>
<polygon points="302.0,227.7 308.2,229.0 308.6,179.4 302.2,178.2" fill="#1fcaca" stroke="#1fcaca" stroke-width="0.35"/>
<polygon points="308.2,229.0 310.3,225.6 310.8,176.2 308.6,179.4" fill="#129c9c"/>
<polygon points="302.2,178.2 308.6,179.4 310.8,176.2 304.4,175.0" fill="#19acac" stroke="#19acac" stroke-width="0.35"/>
<polygon points="318.8,231.0 325.1,232.3 327.2,228.9 328.3,165.9 321.8,164.7 319.6,167.9" fill="#129c9c"/>
<polygon points="318.8,231.0 325.1,232.3 326.1,169.1 319.6,167.9" fill="#1fcaca" stroke="#1fcaca" stroke-width="0.35"/>
<polygon points="325.1,232.3 327.2,228.9 328.3,165.9 326.1,169.1" fill="#129c9c"/>
<polygon points="319.6,167.9 326.1,169.1 328.3,165.9 321.8,164.7" fill="#19acac" stroke="#19acac" stroke-width="0.35"/>
<polygon points="335.8,234.4 342.2,235.6 344.2,232.2 345.5,179.9 339.1,178.7 336.9,182.0" fill="#129c9c"/>
<polygon points="335.8,234.4 342.2,235.6 343.4,183.2 336.9,182.0" fill="#1fcaca" stroke="#1fcaca" stroke-width="0.35"/>
<polygon points="342.2,235.6 344.2,232.2 345.5,179.9 343.4,183.2" fill="#129c9c"/>
<polygon points="336.9,182.0 343.4,183.2 345.5,179.9 339.1,178.7" fill="#19acac" stroke="#19acac" stroke-width="0.35"/>
<polygon points="353.0,237.8 359.4,239.0 361.4,235.5 363.2,179.9 356.7,178.7 354.6,182.0" fill="#129c9c"/>
<polygon points="353.0,237.8 359.4,239.0 361.2,183.2 354.6,182.0" fill="#1fcaca" stroke="#1fcaca" stroke-width="0.35"/>
<polygon points="359.4,239.0 361.4,235.5 363.2,179.9 361.2,183.2" fill="#129c9c"/>
<polygon points="354.6,182.0 361.2,183.2 363.2,179.9 356.7,178.7" fill="#19acac" stroke="#19acac" stroke-width="0.35"/>
<polygon points="370.3,241.1 376.8,242.4 378.6,238.9 382.9,137.9 376.1,136.7 374.1,139.9" fill="#129c9c"/>
<polygon points="370.3,241.1 376.8,242.4 380.9,141.1 374.1,139.9" fill="#1fcaca" stroke="#1fcaca" stroke-width="0.35"/>
<polygon points="376.8,242.4 378.6,238.9 382.9,137.9 380.9,141.1" fill="#129c9c"/>
<polygon points="374.1,139.9 380.9,141.1 382.9,137.9 376.1,136.7" fill="#19acac" stroke="#19acac" stroke-width="0.35"/>
<polygon points="387.8,244.6 394.3,245.8 396.1,242.3 399.2,179.9 392.6,178.7 390.7,182.0" fill="#129c9c"/>
<polygon points="387.8,244.6 394.3,245.8 397.4,183.2 390.7,182.0" fill="#1fcaca" stroke="#1fcaca" stroke-width="0.35"/>
<polygon points="394.3,245.8 396.1,242.3 399.2,179.9 397.4,183.2" fill="#129c9c"/>
<polygon points="390.7,182.0 397.4,183.2 399.2,179.9 392.6,178.7" fill="#19acac" stroke="#19acac" stroke-width="0.35"/>
<polygon points="405.4,248.0 411.9,249.3 413.7,245.8 417.0,188.7 410.3,187.5 408.5,190.9" fill="#129c9c"/>
<polygon points="405.4,248.0 411.9,249.3 415.2,192.1 408.5,190.9" fill="#1fcaca" stroke="#1fcaca" stroke-width="0.35"/>
<polygon points="411.9,249.3 413.7,245.8 417.0,188.7 415.2,192.1" fill="#129c9c"/>
<polygon points="408.5,190.9 415.2,192.1 417.0,188.7 410.3,187.5" fill="#19acac" stroke="#19acac" stroke-width="0.35"/>
<polygon points="423.1,251.5 429.7,252.8 431.4,249.2 437.5,159.7 430.6,158.5 428.8,161.9" fill="#129c9c"/>
<polygon points="423.1,251.5 429.7,252.8 435.7,163.1 428.8,161.9" fill="#1fcaca" stroke="#1fcaca" stroke-width="0.35"/>
<polygon points="429.7,252.8 431.4,249.2 437.5,159.7 435.7,163.1" fill="#129c9c"/>
<polygon points="428.8,161.9 435.7,163.1 437.5,159.7 430.6,158.5" fill="#19acac" stroke="#19acac" stroke-width="0.35"/>
<polygon points="441.1,255.0 447.7,256.3 449.3,252.7 456.0,165.2 449.1,164.0 447.4,167.4" fill="#129c9c"/>
<polygon points="441.1,255.0 447.7,256.3 454.3,168.6 447.4,167.4" fill="#1fcaca" stroke="#1fcaca" stroke-width="0.35"/>
<polygon points="447.7,256.3 449.3,252.7 456.0,165.2 454.3,168.6" fill="#129c9c"/>
<polygon points="447.4,167.4 454.3,168.6 456.0,165.2 449.1,164.0" fill="#19acac" stroke="#19acac" stroke-width="0.35"/>
<polygon points="459.1,258.6 465.9,259.9 467.4,256.2 475.8,157.1 468.8,155.9 467.2,159.3" fill="#129c9c"/>
<polygon points="459.1,258.6 465.9,259.9 474.2,160.5 467.2,159.3" fill="#1fcaca" stroke="#1fcaca" stroke-width="0.35"/>
<polygon points="465.9,259.9 467.4,256.2 475.8,157.1 474.2,160.5" fill="#129c9c"/>
<polygon points="467.2,159.3 474.2,160.5 475.8,157.1 468.8,155.9" fill="#19acac" stroke="#19acac" stroke-width="0.35"/>
<polygon points="477.4,262.1 484.1,263.5 485.6,259.8 495.0,160.2 487.9,159.0 486.4,162.3" fill="#129c9c"/>
<polygon points="477.4,262.1 484.1,263.5 493.5,163.6 486.4,162.3" fill="#1fcaca" stroke="#1fcaca" stroke-width="0.35"/>
<polygon points="484.1,263.5 485.6,259.8 495.0,160.2 493.5,163.6" fill="#129c9c"/>
<polygon points="486.4,162.3 493.5,163.6 495.0,160.2 487.9,159.0" fill="#19acac" stroke="#19acac" stroke-width="0.35"/>
<polygon points="102.2,198.5 107.9,199.6 110.8,196.5 106.3,143.3 100.4,142.2 97.4,145.2" fill="#0d88c2"/>
<polygon points="102.2,198.5 107.9,199.6 103.2,146.3 97.4,145.2" fill="#19b2f0" stroke="#19b2f0" stroke-width="0.35"/>
<polygon points="107.9,199.6 110.8,196.5 106.3,143.3 103.2,146.3" fill="#0d88c2"/>
<polygon points="97.4,145.2 103.2,146.3 106.3,143.3 100.4,142.2" fill="#1196d8" stroke="#1196d8" stroke-width="0.35"/>
<polygon points="117.6,201.5 123.3,202.7 126.2,199.5 122.3,150.0 116.5,148.9 113.5,151.9" fill="#0d88c2"/>
<polygon points="117.6,201.5 123.3,202.7 119.4,153.0 113.5,151.9" fill="#19b2f0" stroke="#19b2f0" stroke-width="0.35"/>
<polygon points="123.3,202.7 126.2,199.5 122.3,150.0 119.4,153.0" fill="#0d88c2"/>
<polygon points="113.5,151.9 119.4,153.0 122.3,150.0 116.5,148.9" fill="#1196d8" stroke="#1196d8" stroke-width="0.35"/>
<polygon points="133.1,204.6 138.9,205.8 141.7,202.6 136.9,133.7 130.9,132.6 128.0,135.6" fill="#0d88c2"/>
<polygon points="133.1,204.6 138.9,205.8 133.9,136.7 128.0,135.6" fill="#19b2f0" stroke="#19b2f0" stroke-width="0.35"/>
<polygon points="138.9,205.8 141.7,202.6 136.9,133.7 133.9,136.7" fill="#0d88c2"/>
<polygon points="128.0,135.6 133.9,136.7 136.9,133.7 130.9,132.6" fill="#1196d8" stroke="#1196d8" stroke-width="0.35"/>
<polygon points="148.8,207.8 154.6,208.9 157.4,205.7 152.6,130.2 146.6,129.1 143.7,132.1" fill="#0d88c2"/>
<polygon points="148.8,207.8 154.6,208.9 149.7,133.2 143.7,132.1" fill="#19b2f0" stroke="#19b2f0" stroke-width="0.35"/>
<polygon points="154.6,208.9 157.4,205.7 152.6,130.2 149.7,133.2" fill="#0d88c2"/>
<polygon points="143.7,132.1 149.7,133.2 152.6,130.2 146.6,129.1" fill="#1196d8" stroke="#1196d8" stroke-width="0.35"/>
<polygon points="164.6,210.9 170.5,212.1 173.2,208.8 169.4,141.8 163.4,140.7 160.6,143.7" fill="#0d88c2"/>
<polygon points="164.6,210.9 170.5,212.1 166.6,144.8 160.6,143.7" fill="#19b2f0" stroke="#19b2f0" stroke-width="0.35"/>
<polygon points="170.5,212.1 173.2,208.8 169.4,141.8 166.6,144.8" fill="#0d88c2"/>
<polygon points="160.6,143.7 166.6,144.8 169.4,141.8 163.4,140.7" fill="#1196d8" stroke="#1196d8" stroke-width="0.35"/>
<polygon points="180.6,214.1 186.5,215.2 189.1,212.0 186.1,150.2 180.1,149.1 177.3,152.2" fill="#0d88c2"/>
<polygon points="180.6,214.1 186.5,215.2 183.4,153.3 177.3,152.2" fill="#19b2f0" stroke="#19b2f0" stroke-width="0.35"/>
<polygon points="186.5,215.2 189.1,212.0 186.1,150.2 183.4,153.3" fill="#0d88c2"/>
<polygon points="177.3,152.2 183.4,153.3 186.1,150.2 180.1,149.1" fill="#1196d8" stroke="#1196d8" stroke-width="0.35"/>
<polygon points="196.6,217.3 202.6,218.4 205.2,215.2 201.8,133.0 195.6,131.9 192.9,134.9" fill="#0d88c2"/>
<polygon points="196.6,217.3 202.6,218.4 199.1,136.0 192.9,134.9" fill="#19b2f0" stroke="#19b2f0" stroke-width="0.35"/>
<polygon points="202.6,218.4 205.2,215.2 201.8,133.0 199.1,136.0" fill="#0d88c2"/>
<polygon points="192.9,134.9 199.1,136.0 201.8,133.0 195.6,131.9" fill="#1196d8" stroke="#1196d8" stroke-width="0.35"/>
<polygon points="212.8,220.5 218.9,221.7 221.4,218.4 219.5,161.1 213.3,160.0 210.7,163.2" fill="#0d88c2"/>
<polygon points="212.8,220.5 218.9,221.7 216.9,164.3 210.7,163.2" fill="#19b2f0" stroke="#19b2f0" stroke-width="0.35"/>
<polygon points="218.9,221.7 221.4,218.4 219.5,161.1 216.9,164.3" fill="#0d88c2"/>
<polygon points="210.7,163.2 216.9,164.3 219.5,161.1 213.3,160.0" fill="#1196d8" stroke="#1196d8" stroke-width="0.35"/>
<polygon points="229.2,223.7 235.3,224.9 237.7,221.6 236.5,175.0 230.3,173.8 227.8,177.0" fill="#0d88c2"/>
<polygon points="229.2,223.7 235.3,224.9 234.0,178.2 227.8,177.0" fill="#19b2f0" stroke="#19b2f0" stroke-width="0.35"/>
<polygon points="235.3,224.9 237.7,221.6 236.5,175.0 234.0,178.2" fill="#0d88c2"/>
<polygon points="227.8,177.0 234.0,178.2 236.5,175.0 230.3,173.8" fill="#1196d8" stroke="#1196d8" stroke-width="0.35"/>
<polygon points="245.7,227.0 251.8,228.2 254.2,224.8 253.3,172.4 247.0,171.2 244.5,174.4" fill="#0d88c2"/>
<polygon points="245.7,227.0 251.8,228.2 250.8,175.6 244.5,174.4" fill="#19b2f0" stroke="#19b2f0" stroke-width="0.35"/>
<polygon points="251.8,228.2 254.2,224.8 253.3,172.4 250.8,175.6" fill="#0d88c2"/>
<polygon points="244.5,174.4 250.8,175.6 253.3,172.4 247.0,171.2" fill="#1196d8" stroke="#1196d8" stroke-width="0.35"/>
<polygon points="262.3,230.3 268.5,231.5 270.8,228.1 270.3,176.4 264.0,175.2 261.5,178.4" fill="#0d88c2"/>
<polygon points="262.3,230.3 268.5,231.5 267.9,179.6 261.5,178.4" fill="#19b2f0" stroke="#19b2f0" stroke-width="0.35"/>
<polygon points="268.5,231.5 270.8,228.1 270.3,176.4 267.9,179.6" fill="#0d88c2"/>
<polygon points="261.5,178.4 267.9,179.6 270.3,176.4 264.0,175.2" fill="#1196d8" stroke="#1196d8" stroke-width="0.35"/>
<polygon points="279.0,233.6 285.3,234.9 287.6,231.4 287.5,180.1 281.1,178.9 278.7,182.2" fill="#0d88c2"/>
<polygon points="279.0,233.6 285.3,234.9 285.1,183.3 278.7,182.2" fill="#19b2f0" stroke="#19b2f0" stroke-width="0.35"/>
<polygon points="285.3,234.9 287.6,231.4 287.5,180.1 285.1,183.3" fill="#0d88c2"/>
<polygon points="278.7,182.2 285.1,183.3 287.5,180.1 281.1,178.9" fill="#1196d8" stroke="#1196d8" stroke-width="0.35"/>
<polygon points="295.9,237.0 302.2,238.3 304.5,234.8 304.8,183.4 298.3,182.2 296.0,185.5" fill="#0d88c2"/>
<polygon points="295.9,237.0 302.2,238.3 302.5,186.7 296.0,185.5" fill="#19b2f0" stroke="#19b2f0" stroke-width="0.35"/>
<polygon points="302.2,238.3 304.5,234.8 304.8,183.4 302.5,186.7" fill="#0d88c2"/>
<polygon points="296.0,185.5 302.5,186.7 304.8,183.4 298.3,182.2" fill="#1196d8" stroke="#1196d8" stroke-width="0.35"/>
<polygon points="313.0,240.4 319.3,241.7 321.5,238.2 322.4,176.8 315.9,175.6 313.6,178.9" fill="#0d88c2"/>
<polygon points="313.0,240.4 319.3,241.7 320.2,180.1 313.6,178.9" fill="#19b2f0" stroke="#19b2f0" stroke-width="0.35"/>
<polygon points="319.3,241.7 321.5,238.2 322.4,176.8 320.2,180.1" fill="#0d88c2"/>
<polygon points="313.6,178.9 320.2,180.1 322.4,176.8 315.9,175.6" fill="#1196d8" stroke="#1196d8" stroke-width="0.35"/>
<polygon points="330.2,243.8 336.6,245.1 338.7,241.6 339.8,190.0 333.3,188.8 331.1,192.2" fill="#0d88c2"/>
<polygon points="330.2,243.8 336.6,245.1 337.7,193.4 331.1,192.2" fill="#19b2f0" stroke="#19b2f0" stroke-width="0.35"/>
<polygon points="336.6,245.1 338.7,241.6 339.8,190.0 337.7,193.4" fill="#0d88c2"/>
<polygon points="331.1,192.2 337.7,193.4 339.8,190.0 333.3,188.8" fill="#1196d8" stroke="#1196d8" stroke-width="0.35"/>
<polygon points="347.5,247.3 354.0,248.5 356.0,245.0 357.7,190.4 351.1,189.2 349.0,192.6" fill="#0d88c2"/>
<polygon points="347.5,247.3 354.0,248.5 355.6,193.8 349.0,192.6" fill="#19b2f0" stroke="#19b2f0" stroke-width="0.35"/>
<polygon points="354.0,248.5 356.0,245.0 357.7,190.4 355.6,193.8" fill="#0d88c2"/>
<polygon points="349.0,192.6 355.6,193.8 357.7,190.4 351.1,189.2" fill="#1196d8" stroke="#1196d8" stroke-width="0.35"/>
<polygon points="365.0,250.7 371.5,252.0 373.5,248.4 376.9,161.9 370.1,160.7 368.1,164.1" fill="#0d88c2"/>
<polygon points="365.0,250.7 371.5,252.0 374.9,165.3 368.1,164.1" fill="#19b2f0" stroke="#19b2f0" stroke-width="0.35"/>
<polygon points="371.5,252.0 373.5,248.4 376.9,161.9 374.9,165.3" fill="#0d88c2"/>
<polygon points="368.1,164.1 374.9,165.3 376.9,161.9 370.1,160.7" fill="#1196d8" stroke="#1196d8" stroke-width="0.35"/>
<polygon points="382.7,254.2 389.2,255.5 391.1,251.9 394.0,191.5 387.3,190.3 385.3,193.7" fill="#0d88c2"/>
<polygon points="382.7,254.2 389.2,255.5 392.1,195.0 385.3,193.7" fill="#19b2f0" stroke="#19b2f0" stroke-width="0.35"/>
<polygon points="389.2,255.5 391.1,251.9 394.0,191.5 392.1,195.0" fill="#0d88c2"/>
<polygon points="385.3,193.7 392.1,195.0 394.0,191.5 387.3,190.3" fill="#1196d8" stroke="#1196d8" stroke-width="0.35"/>
<polygon points="400.5,257.8 407.1,259.1 408.9,255.4 412.1,198.7 405.3,197.5 403.5,200.9" fill="#0d88c2"/>
<polygon points="400.5,257.8 407.1,259.1 410.3,202.2 403.5,200.9" fill="#19b2f0" stroke="#19b2f0" stroke-width="0.35"/>
<polygon points="407.1,259.1 408.9,255.4 412.1,198.7 410.3,202.2" fill="#0d88c2"/>
<polygon points="403.5,200.9 410.3,202.2 412.1,198.7 405.3,197.5" fill="#1196d8" stroke="#1196d8" stroke-width="0.35"/>
<polygon points="418.4,261.4 425.1,262.7 426.9,259.0 432.1,179.0 425.2,177.7 423.4,181.2" fill="#0d88c2"/>
<polygon points="418.4,261.4 425.1,262.7 430.3,182.4 423.4,181.2" fill="#19b2f0" stroke="#19b2f0" stroke-width="0.35"/>
<polygon points="425.1,262.7 426.9,259.0 432.1,179.0 430.3,182.4" fill="#0d88c2"/>
<polygon points="423.4,181.2 430.3,182.4 432.1,179.0 425.2,177.7" fill="#1196d8" stroke="#1196d8" stroke-width="0.35"/>
<polygon points="436.6,265.0 443.3,266.3 445.0,262.6 450.8,183.4 443.9,182.2 442.1,185.6" fill="#0d88c2"/>
<polygon points="436.6,265.0 443.3,266.3 449.2,186.9 442.1,185.6" fill="#19b2f0" stroke="#19b2f0" stroke-width="0.35"/>
<polygon points="443.3,266.3 445.0,262.6 450.8,183.4 449.2,186.9" fill="#0d88c2"/>
<polygon points="442.1,185.6 449.2,186.9 450.8,183.4 443.9,182.2" fill="#1196d8" stroke="#1196d8" stroke-width="0.35"/>
<polygon points="454.8,268.6 461.6,269.9 463.2,266.2 470.5,179.0 463.4,177.8 461.8,181.2" fill="#0d88c2"/>
<polygon points="454.8,268.6 461.6,269.9 468.9,182.5 461.8,181.2" fill="#19b2f0" stroke="#19b2f0" stroke-width="0.35"/>
<polygon points="461.6,269.9 463.2,266.2 470.5,179.0 468.9,182.5" fill="#0d88c2"/>
<polygon points="461.8,181.2 468.9,182.5 470.5,179.0 463.4,177.8" fill="#1196d8" stroke="#1196d8" stroke-width="0.35"/>
<polygon points="473.3,272.3 480.2,273.6 481.6,269.8 489.6,183.9 482.5,182.6 480.9,186.1" fill="#0d88c2"/>
<polygon points="473.3,272.3 480.2,273.6 488.1,187.4 480.9,186.1" fill="#19b2f0" stroke="#19b2f0" stroke-width="0.35"/>
<polygon points="480.2,273.6 481.6,269.8 489.6,183.9 488.1,187.4" fill="#0d88c2"/>
<polygon points="480.9,186.1 488.1,187.4 489.6,183.9 482.5,182.6" fill="#1196d8" stroke="#1196d8" stroke-width="0.35"/>
<polygon points="94.1,207.0 99.8,208.2 102.8,205.0 98.0,151.2 92.1,150.1 89.0,153.1" fill="#104cc0"/>
<polygon points="94.1,207.0 99.8,208.2 94.9,154.2 89.0,153.1" fill="#1a66ee" stroke="#1a66ee" stroke-width="0.35"/>
<polygon points="99.8,208.2 102.8,205.0 98.0,151.2 94.9,154.2" fill="#104cc0"/>
<polygon points="89.0,153.1 94.9,154.2 98.0,151.2 92.1,150.1" fill="#2f74ee" stroke="#2f74ee" stroke-width="0.35"/>
<polygon points="109.6,210.2 115.4,211.4 118.4,208.1 114.2,157.3 108.3,156.2 105.2,159.3" fill="#104cc0"/>
<polygon points="109.6,210.2 115.4,211.4 111.2,160.4 105.2,159.3" fill="#1a66ee" stroke="#1a66ee" stroke-width="0.35"/>
<polygon points="115.4,211.4 118.4,208.1 114.2,157.3 111.2,160.4" fill="#104cc0"/>
<polygon points="105.2,159.3 111.2,160.4 114.2,157.3 108.3,156.2" fill="#2f74ee" stroke="#2f74ee" stroke-width="0.35"/>
<polygon points="125.3,213.4 131.2,214.5 134.1,211.3 129.3,147.7 123.3,146.6 120.3,149.7" fill="#104cc0"/>
<polygon points="125.3,213.4 131.2,214.5 126.3,150.8 120.3,149.7" fill="#1a66ee" stroke="#1a66ee" stroke-width="0.35"/>
<polygon points="131.2,214.5 134.1,211.3 129.3,147.7 126.3,150.8" fill="#104cc0"/>
<polygon points="120.3,149.7 126.3,150.8 129.3,147.7 123.3,146.6" fill="#2f74ee" stroke="#2f74ee" stroke-width="0.35"/>
<polygon points="141.2,216.5 147.1,217.7 149.9,214.4 145.1,144.2 139.1,143.1 136.1,146.2" fill="#104cc0"/>
<polygon points="141.2,216.5 147.1,217.7 142.2,147.3 136.1,146.2" fill="#1a66ee" stroke="#1a66ee" stroke-width="0.35"/>
<polygon points="147.1,217.7 149.9,214.4 145.1,144.2 142.2,147.3" fill="#104cc0"/>
<polygon points="136.1,146.2 142.2,147.3 145.1,144.2 139.1,143.1" fill="#2f74ee" stroke="#2f74ee" stroke-width="0.35"/>
<polygon points="157.1,219.8 163.1,221.0 165.8,217.6 162.0,154.1 155.9,153.0 153.0,156.1" fill="#104cc0"/>
<polygon points="157.1,219.8 163.1,221.0 159.2,157.3 153.0,156.1" fill="#1a66ee" stroke="#1a66ee" stroke-width="0.35"/>
<polygon points="163.1,221.0 165.8,217.6 162.0,154.1 159.2,157.3" fill="#104cc0"/>
<polygon points="153.0,156.1 159.2,157.3 162.0,154.1 155.9,153.0" fill="#2f74ee" stroke="#2f74ee" stroke-width="0.35"/>
<polygon points="173.2,223.0 179.2,224.2 181.9,220.9 178.8,161.1 172.7,160.0 169.8,163.1" fill="#104cc0"/>
<polygon points="173.2,223.0 179.2,224.2 176.0,164.3 169.8,163.1" fill="#1a66ee" stroke="#1a66ee" stroke-width="0.35"/>
<polygon points="179.2,224.2 181.9,220.9 178.8,161.1 176.0,164.3" fill="#104cc0"/>
<polygon points="169.8,163.1 176.0,164.3 178.8,161.1 172.7,160.0" fill="#2f74ee" stroke="#2f74ee" stroke-width="0.35"/>
<polygon points="189.4,226.3 195.5,227.5 198.1,224.1 195.0,153.2 188.8,152.1 186.0,155.2" fill="#104cc0"/>
<polygon points="189.4,226.3 195.5,227.5 192.2,156.4 186.0,155.2" fill="#1a66ee" stroke="#1a66ee" stroke-width="0.35"/>
<polygon points="195.5,227.5 198.1,224.1 195.0,153.2 192.2,156.4" fill="#104cc0"/>
<polygon points="186.0,155.2 192.2,156.4 195.0,153.2 188.8,152.1" fill="#2f74ee" stroke="#2f74ee" stroke-width="0.35"/>
<polygon points="205.8,229.6 211.9,230.8 214.5,227.4 212.6,174.8 206.3,173.6 203.6,176.9" fill="#104cc0"/>
<polygon points="205.8,229.6 211.9,230.8 209.9,178.0 203.6,176.9" fill="#1a66ee" stroke="#1a66ee" stroke-width="0.35"/>
<polygon points="211.9,230.8 214.5,227.4 212.6,174.8 209.9,178.0" fill="#104cc0"/>
<polygon points="203.6,176.9 209.9,178.0 212.6,174.8 206.3,173.6" fill="#2f74ee" stroke="#2f74ee" stroke-width="0.35"/>
<polygon points="222.3,232.9 228.5,234.1 231.0,230.7 229.7,187.3 223.5,186.1 220.9,189.4" fill="#104cc0"/>
<polygon points="222.3,232.9 228.5,234.1 227.1,190.6 220.9,189.4" fill="#1a66ee" stroke="#1a66ee" stroke-width="0.35"/>
<polygon points="228.5,234.1 231.0,230.7 229.7,187.3 227.1,190.6" fill="#104cc0"/>
<polygon points="220.9,189.4 227.1,190.6 229.7,187.3 223.5,186.1" fill="#2f74ee" stroke="#2f74ee" stroke-width="0.35"/>
<polygon points="239.0,236.2 245.2,237.5 247.6,234.0 246.6,184.3 240.3,183.1 237.7,186.4" fill="#104cc0"/>
<polygon points="239.0,236.2 245.2,237.5 244.1,187.6 237.7,186.4" fill="#1a66ee" stroke="#1a66ee" stroke-width="0.35"/>
<polygon points="245.2,237.5 247.6,234.0 246.6,184.3 244.1,187.6" fill="#104cc0"/>
<polygon points="237.7,186.4 244.1,187.6 246.6,184.3 240.3,183.1" fill="#2f74ee" stroke="#2f74ee" stroke-width="0.35"/>
<polygon points="255.8,239.6 262.0,240.9 264.4,237.4 263.7,185.0 257.3,183.8 254.9,187.1" fill="#104cc0"/>
<polygon points="255.8,239.6 262.0,240.9 261.3,188.3 254.9,187.1" fill="#1a66ee" stroke="#1a66ee" stroke-width="0.35"/>
<polygon points="262.0,240.9 264.4,237.4 263.7,185.0 261.3,188.3" fill="#104cc0"/>
<polygon points="254.9,187.1 261.3,188.3 263.7,185.0 257.3,183.8" fill="#2f74ee" stroke="#2f74ee" stroke-width="0.35"/>
<polygon points="272.7,243.0 279.0,244.3 281.3,240.8 281.1,187.3 274.6,186.1 272.2,189.4" fill="#104cc0"/>
<polygon points="272.7,243.0 279.0,244.3 278.7,190.6 272.2,189.4" fill="#1a66ee" stroke="#1a66ee" stroke-width="0.35"/>
<polygon points="279.0,244.3 281.3,240.8 281.1,187.3 278.7,190.6" fill="#104cc0"/>
<polygon points="272.2,189.4 278.7,190.6 281.1,187.3 274.6,186.1" fill="#2f74ee" stroke="#2f74ee" stroke-width="0.35"/>
<polygon points="289.8,246.5 296.1,247.8 298.4,244.2 298.6,190.3 292.1,189.1 289.7,192.4" fill="#104cc0"/>
<polygon points="289.8,246.5 296.1,247.8 296.3,193.7 289.7,192.4" fill="#1a66ee" stroke="#1a66ee" stroke-width="0.35"/>
<polygon points="296.1,247.8 298.4,244.2 298.6,190.3 296.3,193.7" fill="#104cc0"/>
<polygon points="289.7,192.4 296.3,193.7 298.6,190.3 292.1,189.1" fill="#2f74ee" stroke="#2f74ee" stroke-width="0.35"/>
<polygon points="307.0,250.0 313.4,251.2 315.6,247.7 316.3,188.6 309.7,187.4 307.4,190.8" fill="#104cc0"/>
<polygon points="307.0,250.0 313.4,251.2 314.0,192.0 307.4,190.8" fill="#1a66ee" stroke="#1a66ee" stroke-width="0.35"/>
<polygon points="313.4,251.2 315.6,247.7 316.3,188.6 314.0,192.0" fill="#104cc0"/>
<polygon points="307.4,190.8 314.0,192.0 316.3,188.6 309.7,187.4" fill="#2f74ee" stroke="#2f74ee" stroke-width="0.35"/>
<polygon points="324.4,253.5 330.9,254.8 333.0,251.2 334.0,199.4 327.4,198.2 325.2,201.6" fill="#104cc0"/>
<polygon points="324.4,253.5 330.9,254.8 331.8,202.9 325.2,201.6" fill="#1a66ee" stroke="#1a66ee" stroke-width="0.35"/>
<polygon points="330.9,254.8 333.0,251.2 334.0,199.4 331.8,202.9" fill="#104cc0"/>
<polygon points="325.2,201.6 331.8,202.9 334.0,199.4 327.4,198.2" fill="#2f74ee" stroke="#2f74ee" stroke-width="0.35"/>
<polygon points="341.9,257.0 348.5,258.3 350.5,254.7 352.1,200.3 345.4,199.1 343.2,202.6" fill="#104cc0"/>
<polygon points="341.9,257.0 348.5,258.3 350.0,203.8 343.2,202.6" fill="#1a66ee" stroke="#1a66ee" stroke-width="0.35"/>
<polygon points="348.5,258.3 350.5,254.7 352.1,200.3 350.0,203.8" fill="#104cc0"/>
<polygon points="343.2,202.6 350.0,203.8 352.1,200.3 345.4,199.1" fill="#2f74ee" stroke="#2f74ee" stroke-width="0.35"/>
<polygon points="359.6,260.6 366.2,261.9 368.2,258.2 371.0,181.2 364.2,180.0 362.2,183.4" fill="#104cc0"/>
<polygon points="359.6,260.6 366.2,261.9 369.0,184.7 362.2,183.4" fill="#1a66ee" stroke="#1a66ee" stroke-width="0.35"/>
<polygon points="366.2,261.9 368.2,258.2 371.0,181.2 369.0,184.7" fill="#104cc0"/>
<polygon points="362.2,183.4 369.0,184.7 371.0,181.2 364.2,180.0" fill="#2f74ee" stroke="#2f74ee" stroke-width="0.35"/>
<polygon points="377.5,264.2 384.1,265.5 386.0,261.8 388.7,203.2 381.9,201.9 379.9,205.4" fill="#104cc0"/>
<polygon points="377.5,264.2 384.1,265.5 386.7,206.7 379.9,205.4" fill="#1a66ee" stroke="#1a66ee" stroke-width="0.35"/>
<polygon points="384.1,265.5 386.0,261.8 388.7,203.2 386.7,206.7" fill="#104cc0"/>
<polygon points="379.9,205.4 386.7,206.7 388.7,203.2 381.9,201.9" fill="#2f74ee" stroke="#2f74ee" stroke-width="0.35"/>
<polygon points="395.5,267.8 402.2,269.1 404.0,265.4 407.1,209.0 400.2,207.8 398.3,211.3" fill="#104cc0"/>
<polygon points="395.5,267.8 402.2,269.1 405.2,212.6 398.3,211.3" fill="#1a66ee" stroke="#1a66ee" stroke-width="0.35"/>
<polygon points="402.2,269.1 404.0,265.4 407.1,209.0 405.2,212.6" fill="#104cc0"/>
<polygon points="398.3,211.3 405.2,212.6 407.1,209.0 400.2,207.8" fill="#2f74ee" stroke="#2f74ee" stroke-width="0.35"/>
<polygon points="413.6,271.4 420.4,272.8 422.2,269.0 426.7,196.7 419.8,195.5 417.9,199.0" fill="#104cc0"/>
<polygon points="413.6,271.4 420.4,272.8 424.9,200.3 417.9,199.0" fill="#1a66ee" stroke="#1a66ee" stroke-width="0.35"/>
<polygon points="420.4,272.8 422.2,269.0 426.7,196.7 424.9,200.3" fill="#104cc0"/>
<polygon points="417.9,199.0 424.9,200.3 426.7,196.7 419.8,195.5" fill="#2f74ee" stroke="#2f74ee" stroke-width="0.35"/>
<polygon points="432.0,275.1 438.8,276.5 440.5,272.7 445.7,200.3 438.7,199.0 436.9,202.6" fill="#104cc0"/>
<polygon points="432.0,275.1 438.8,276.5 444.0,203.9 436.9,202.6" fill="#1a66ee" stroke="#1a66ee" stroke-width="0.35"/>
<polygon points="438.8,276.5 440.5,272.7 445.7,200.3 444.0,203.9" fill="#104cc0"/>
<polygon points="436.9,202.6 444.0,203.9 445.7,200.3 438.7,199.0" fill="#2f74ee" stroke="#2f74ee" stroke-width="0.35"/>
<polygon points="450.4,278.9 457.3,280.2 458.9,276.4 465.3,198.1 458.2,196.8 456.5,200.4" fill="#104cc0"/>
<polygon points="450.4,278.9 457.3,280.2 463.7,201.7 456.5,200.4" fill="#1a66ee" stroke="#1a66ee" stroke-width="0.35"/>
<polygon points="457.3,280.2 458.9,276.4 465.3,198.1 463.7,201.7" fill="#104cc0"/>
<polygon points="456.5,200.4 463.7,201.7 465.3,198.1 458.2,196.8" fill="#2f74ee" stroke="#2f74ee" stroke-width="0.35"/>
<polygon points="469.1,282.6 476.0,284.0 477.6,280.1 484.1,208.0 477.0,206.7 475.4,210.3" fill="#104cc0"/>
<polygon points="469.1,282.6 476.0,284.0 482.6,211.6 475.4,210.3" fill="#1a66ee" stroke="#1a66ee" stroke-width="0.35"/>
<polygon points="476.0,284.0 477.6,280.1 484.1,208.0 482.6,211.6" fill="#104cc0"/>
<polygon points="475.4,210.3 482.6,211.6 484.1,208.0 477.0,206.7" fill="#2f74ee" stroke="#2f74ee" stroke-width="0.35"/>
<polygon points="85.8,215.8 91.6,217.0 94.6,213.7 89.7,160.5 83.8,159.4 80.6,162.5" fill="#090930"/>
<polygon points="85.8,215.8 91.6,217.0 86.5,163.7 80.6,162.5" fill="#10104a" stroke="#10104a" stroke-width="0.35"/>
<polygon points="91.6,217.0 94.6,213.7 89.7,160.5 86.5,163.7" fill="#090930"/>
<polygon points="80.6,162.5 86.5,163.7 89.7,160.5 83.8,159.4" fill="#181858" stroke="#181858" stroke-width="0.35"/>
<polygon points="101.5,219.0 107.3,220.2 110.4,216.9 106.0,166.1 100.0,165.0 96.9,168.2" fill="#090930"/>
<polygon points="101.5,219.0 107.3,220.2 102.9,169.3 96.9,168.2" fill="#10104a" stroke="#10104a" stroke-width="0.35"/>
<polygon points="107.3,220.2 110.4,216.9 106.0,166.1 102.9,169.3" fill="#090930"/>
<polygon points="96.9,168.2 102.9,169.3 106.0,166.1 100.0,165.0" fill="#181858" stroke="#181858" stroke-width="0.35"/>
<polygon points="117.3,222.3 123.2,223.5 126.2,220.1 121.6,162.2 115.6,161.1 112.5,164.3" fill="#090930"/>
<polygon points="117.3,222.3 123.2,223.5 118.6,165.4 112.5,164.3" fill="#10104a" stroke="#10104a" stroke-width="0.35"/>
<polygon points="123.2,223.5 126.2,220.1 121.6,162.2 118.6,165.4" fill="#090930"/>
<polygon points="112.5,164.3 118.6,165.4 121.6,162.2 115.6,161.1" fill="#181858" stroke="#181858" stroke-width="0.35"/>
<polygon points="133.3,225.5 139.3,226.8 142.2,223.4 137.8,162.6 131.7,161.5 128.7,164.7" fill="#090930"/>
<polygon points="133.3,225.5 139.3,226.8 134.8,165.8 128.7,164.7" fill="#10104a" stroke="#10104a" stroke-width="0.35"/>
<polygon points="139.3,226.8 142.2,223.4 137.8,162.6 134.8,165.8" fill="#090930"/>
<polygon points="128.7,164.7 134.8,165.8 137.8,162.6 131.7,161.5" fill="#181858" stroke="#181858" stroke-width="0.35"/>
<polygon points="149.4,228.8 155.4,230.1 158.3,226.7 154.6,168.8 148.5,167.6 145.5,170.8" fill="#090930"/>
<polygon points="149.4,228.8 155.4,230.1 151.7,172.0 145.5,170.8" fill="#10104a" stroke="#10104a" stroke-width="0.35"/>
<polygon points="155.4,230.1 158.3,226.7 154.6,168.8 151.7,172.0" fill="#090930"/>
<polygon points="145.5,170.8 151.7,172.0 154.6,168.8 148.5,167.6" fill="#181858" stroke="#181858" stroke-width="0.35"/>
<polygon points="165.7,232.1 171.7,233.4 174.5,230.0 171.3,172.4 165.1,171.3 162.2,174.5" fill="#090930"/>
<polygon points="165.7,232.1 171.7,233.4 168.4,175.7 162.2,174.5" fill="#10104a" stroke="#10104a" stroke-width="0.35"/>
<polygon points="171.7,233.4 174.5,230.0 171.3,172.4 168.4,175.7" fill="#090930"/>
<polygon points="162.2,174.5 168.4,175.7 171.3,172.4 165.1,171.3" fill="#181858" stroke="#181858" stroke-width="0.35"/>
<polygon points="182.1,235.5 188.2,236.7 190.9,233.3 188.0,172.0 181.7,170.8 178.9,174.1" fill="#090930"/>
<polygon points="182.1,235.5 188.2,236.7 185.1,175.3 178.9,174.1" fill="#10104a" stroke="#10104a" stroke-width="0.35"/>
<polygon points="188.2,236.7 190.9,233.3 188.0,172.0 185.1,175.3" fill="#090930"/>
<polygon points="178.9,174.1 185.1,175.3 188.0,172.0 181.7,170.8" fill="#181858" stroke="#181858" stroke-width="0.35"/>
<polygon points="198.6,238.9 204.8,240.1 207.4,236.7 205.4,185.7 199.1,184.5 196.3,187.8" fill="#090930"/>
<polygon points="198.6,238.9 204.8,240.1 202.6,189.0 196.3,187.8" fill="#10104a" stroke="#10104a" stroke-width="0.35"/>
<polygon points="204.8,240.1 207.4,236.7 205.4,185.7 202.6,189.0" fill="#090930"/>
<polygon points="196.3,187.8 202.6,189.0 205.4,185.7 199.1,184.5" fill="#181858" stroke="#181858" stroke-width="0.35"/>
<polygon points="215.3,242.3 221.5,243.5 224.1,240.0 222.7,195.5 216.3,194.3 213.7,197.7" fill="#090930"/>
<polygon points="215.3,242.3 221.5,243.5 220.0,198.9 213.7,197.7" fill="#10104a" stroke="#10104a" stroke-width="0.35"/>
<polygon points="221.5,243.5 224.1,240.0 222.7,195.5 220.0,198.9" fill="#090930"/>
<polygon points="213.7,197.7 220.0,198.9 222.7,195.5 216.3,194.3" fill="#181858" stroke="#181858" stroke-width="0.35"/>
<polygon points="232.1,245.7 238.4,247.0 240.9,243.5 239.6,191.7 233.3,190.5 230.6,193.9" fill="#090930"/>
<polygon points="232.1,245.7 238.4,247.0 237.0,195.1 230.6,193.9" fill="#10104a" stroke="#10104a" stroke-width="0.35"/>
<polygon points="238.4,247.0 240.9,243.5 239.6,191.7 237.0,195.1" fill="#090930"/>
<polygon points="230.6,193.9 237.0,195.1 239.6,191.7 233.3,190.5" fill="#181858" stroke="#181858" stroke-width="0.35"/>
<polygon points="249.1,249.2 255.4,250.5 257.9,246.9 257.0,193.8 250.6,192.6 248.0,196.0" fill="#090930"/>
<polygon points="249.1,249.2 255.4,250.5 254.5,197.2 248.0,196.0" fill="#10104a" stroke="#10104a" stroke-width="0.35"/>
<polygon points="255.4,250.5 257.9,246.9 257.0,193.8 254.5,197.2" fill="#090930"/>
<polygon points="248.0,196.0 254.5,197.2 257.0,193.8 250.6,192.6" fill="#181858" stroke="#181858" stroke-width="0.35"/>
<polygon points="266.2,252.7 272.6,254.0 275.0,250.4 274.5,196.9 268.0,195.7 265.5,199.1" fill="#090930"/>
<polygon points="266.2,252.7 272.6,254.0 272.1,200.4 265.5,199.1" fill="#10104a" stroke="#10104a" stroke-width="0.35"/>
<polygon points="272.6,254.0 275.0,250.4 274.5,196.9 272.1,200.4" fill="#090930"/>
<polygon points="265.5,199.1 272.1,200.4 274.5,196.9 268.0,195.7" fill="#181858" stroke="#181858" stroke-width="0.35"/>
<polygon points="283.5,256.2 289.9,257.5 292.2,253.9 292.2,200.3 285.7,199.1 283.3,202.6" fill="#090930"/>
<polygon points="283.5,256.2 289.9,257.5 289.8,203.8 283.3,202.6" fill="#10104a" stroke="#10104a" stroke-width="0.35"/>
<polygon points="289.9,257.5 292.2,253.9 292.2,200.3 289.8,203.8" fill="#090930"/>
<polygon points="283.3,202.6 289.8,203.8 292.2,200.3 285.7,199.1" fill="#181858" stroke="#181858" stroke-width="0.35"/>
<polygon points="300.9,259.8 307.4,261.1 309.6,257.4 310.1,202.0 303.5,200.8 301.1,204.3" fill="#090930"/>
<polygon points="300.9,259.8 307.4,261.1 307.8,205.5 301.1,204.3" fill="#10104a" stroke="#10104a" stroke-width="0.35"/>
<polygon points="307.4,261.1 309.6,257.4 310.1,202.0 307.8,205.5" fill="#090930"/>
<polygon points="301.1,204.3 307.8,205.5 310.1,202.0 303.5,200.8" fill="#181858" stroke="#181858" stroke-width="0.35"/>
<polygon points="318.5,263.4 325.0,264.7 327.2,261.0 328.1,208.2 321.4,207.0 319.1,210.5" fill="#090930"/>
<polygon points="318.5,263.4 325.0,264.7 325.9,211.8 319.1,210.5" fill="#10104a" stroke="#10104a" stroke-width="0.35"/>
<polygon points="325.0,264.7 327.2,261.0 328.1,208.2 325.9,211.8" fill="#090930"/>
<polygon points="319.1,210.5 325.9,211.8 328.1,208.2 321.4,207.0" fill="#181858" stroke="#181858" stroke-width="0.35"/>
<polygon points="336.2,267.0 342.8,268.3 344.9,264.6 346.3,210.1 339.6,208.9 337.4,212.4" fill="#090930"/>
<polygon points="336.2,267.0 342.8,268.3 344.1,213.7 337.4,212.4" fill="#10104a" stroke="#10104a" stroke-width="0.35"/>
<polygon points="342.8,268.3 344.9,264.6 346.3,210.1 344.1,213.7" fill="#090930"/>
<polygon points="337.4,212.4 344.1,213.7 346.3,210.1 339.6,208.9" fill="#181858" stroke="#181858" stroke-width="0.35"/>
<polygon points="354.1,270.6 360.7,272.0 362.8,268.2 365.0,204.7 358.1,203.4 356.0,207.0" fill="#090930"/>
<polygon points="354.1,270.6 360.7,272.0 362.9,208.2 356.0,207.0" fill="#10104a" stroke="#10104a" stroke-width="0.35"/>
<polygon points="360.7,272.0 362.8,268.2 365.0,204.7 362.9,208.2" fill="#090930"/>
<polygon points="356.0,207.0 362.9,208.2 365.0,204.7 358.1,203.4" fill="#181858" stroke="#181858" stroke-width="0.35"/>
<polygon points="372.1,274.3 378.8,275.7 380.8,271.9 383.3,214.2 376.4,212.9 374.4,216.5" fill="#090930"/>
<polygon points="372.1,274.3 378.8,275.7 381.3,217.8 374.4,216.5" fill="#10104a" stroke="#10104a" stroke-width="0.35"/>
<polygon points="378.8,275.7 380.8,271.9 383.3,214.2 381.3,217.8" fill="#090930"/>
<polygon points="374.4,216.5 381.3,217.8 383.3,214.2 376.4,212.9" fill="#181858" stroke="#181858" stroke-width="0.35"/>
<polygon points="390.3,278.0 397.1,279.4 399.0,275.6 401.9,220.8 394.9,219.5 393.0,223.1" fill="#090930"/>
<polygon points="390.3,278.0 397.1,279.4 399.9,224.5 393.0,223.1" fill="#10104a" stroke="#10104a" stroke-width="0.35"/>
<polygon points="397.1,279.4 399.0,275.6 401.9,220.8 399.9,224.5" fill="#090930"/>
<polygon points="393.0,223.1 399.9,224.5 401.9,220.8 394.9,219.5" fill="#181858" stroke="#181858" stroke-width="0.35"/>
<polygon points="408.7,281.8 415.5,283.2 417.3,279.3 421.2,217.2 414.1,215.9 412.3,219.5" fill="#090930"/>
<polygon points="408.7,281.8 415.5,283.2 419.3,220.9 412.3,219.5" fill="#10104a" stroke="#10104a" stroke-width="0.35"/>
<polygon points="415.5,283.2 417.3,279.3 421.2,217.2 419.3,220.9" fill="#090930"/>
<polygon points="412.3,219.5 419.3,220.9 421.2,217.2 414.1,215.9" fill="#181858" stroke="#181858" stroke-width="0.35"/>
<polygon points="427.2,285.6 434.1,287.0 435.9,283.1 440.4,219.2 433.3,217.9 431.5,221.6" fill="#090930"/>
<polygon points="427.2,285.6 434.1,287.0 438.6,222.9 431.5,221.6" fill="#10104a" stroke="#10104a" stroke-width="0.35"/>
<polygon points="434.1,287.0 435.9,283.1 440.4,219.2 438.6,222.9" fill="#090930"/>
<polygon points="431.5,221.6 438.6,222.9 440.4,219.2 433.3,217.9" fill="#181858" stroke="#181858" stroke-width="0.35"/>
<polygon points="445.9,289.4 452.9,290.8 454.6,286.9 459.6,223.2 452.5,221.9 450.8,225.6" fill="#090930"/>
<polygon points="445.9,289.4 452.9,290.8 458.0,227.0 450.8,225.6" fill="#10104a" stroke="#10104a" stroke-width="0.35"/>
<polygon points="452.9,290.8 454.6,286.9 459.6,223.2 458.0,227.0" fill="#090930"/>
<polygon points="450.8,225.6 458.0,227.0 459.6,223.2 452.5,221.9" fill="#181858" stroke="#181858" stroke-width="0.35"/>
<polygon points="464.8,293.2 471.8,294.7 473.4,290.7 479.1,227.1 471.9,225.7 470.2,229.5" fill="#090930"/>
<polygon points="464.8,293.2 471.8,294.7 477.5,230.9 470.2,229.5" fill="#10104a" stroke="#10104a" stroke-width="0.35"/>
<polygon points="471.8,294.7 473.4,290.7 479.1,227.1 477.5,230.9" fill="#090930"/>
<polygon points="470.2,229.5 477.5,230.9 479.1,227.1 471.9,225.7" fill="#181858" stroke="#181858" stroke-width="0.35"/>
<polygon points="77.3,224.8 83.1,226.0 86.3,222.7 81.2,170.6 75.2,169.5 72.0,172.7" fill="#bcbcbc"/>
<polygon points="77.3,224.8 83.1,226.0 77.9,173.8 72.0,172.7" fill="#efefef" stroke="#efefef" stroke-width="0.35"/>
<polygon points="83.1,226.0 86.3,222.7 81.2,170.6 77.9,173.8" fill="#bcbcbc"/>
<polygon points="72.0,172.7 77.9,173.8 81.2,170.6 75.2,169.5" fill="#c8c8c8" stroke="#c8c8c8" stroke-width="0.35"/>
<polygon points="93.2,228.1 99.1,229.3 102.2,225.9 97.4,173.7 91.4,172.6 88.2,175.8" fill="#bcbcbc"/>
<polygon points="93.2,228.1 99.1,229.3 94.2,177.0 88.2,175.8" fill="#efefef" stroke="#efefef" stroke-width="0.35"/>
<polygon points="99.1,229.3 102.2,225.9 97.4,173.7 94.2,177.0" fill="#bcbcbc"/>
<polygon points="88.2,175.8 94.2,177.0 97.4,173.7 91.4,172.6" fill="#c8c8c8" stroke="#c8c8c8" stroke-width="0.35"/>
<polygon points="109.2,231.4 115.1,232.6 118.1,229.2 113.8,176.9 107.7,175.7 104.6,179.0" fill="#bcbcbc"/>
<polygon points="109.2,231.4 115.1,232.6 110.7,180.2 104.6,179.0" fill="#efefef" stroke="#efefef" stroke-width="0.35"/>
<polygon points="115.1,232.6 118.1,229.2 113.8,176.9 110.7,180.2" fill="#bcbcbc"/>
<polygon points="104.6,179.0 110.7,180.2 113.8,176.9 107.7,175.7" fill="#c8c8c8" stroke="#c8c8c8" stroke-width="0.35"/>
<polygon points="125.3,234.7 131.3,236.0 134.3,232.5 130.3,180.1 124.2,178.9 121.1,182.2" fill="#bcbcbc"/>
<polygon points="125.3,234.7 131.3,236.0 127.3,183.4 121.1,182.2" fill="#efefef" stroke="#efefef" stroke-width="0.35"/>
<polygon points="131.3,236.0 134.3,232.5 130.3,180.1 127.3,183.4" fill="#bcbcbc"/>
<polygon points="121.1,182.2 127.3,183.4 130.3,180.1 124.2,178.9" fill="#c8c8c8" stroke="#c8c8c8" stroke-width="0.35"/>
<polygon points="141.6,238.1 147.6,239.4 150.5,235.9 147.0,183.3 140.8,182.1 137.8,185.4" fill="#bcbcbc"/>
<polygon points="141.6,238.1 147.6,239.4 144.0,186.6 137.8,185.4" fill="#efefef" stroke="#efefef" stroke-width="0.35"/>
<polygon points="147.6,239.4 150.5,235.9 147.0,183.3 144.0,186.6" fill="#bcbcbc"/>
<polygon points="137.8,185.4 144.0,186.6 147.0,183.3 140.8,182.1" fill="#c8c8c8" stroke="#c8c8c8" stroke-width="0.35"/>
<polygon points="158.0,241.5 164.1,242.8 167.0,239.3 163.8,186.5 157.6,185.3 154.6,188.6" fill="#bcbcbc"/>
<polygon points="158.0,241.5 164.1,242.8 160.9,189.9 154.6,188.6" fill="#efefef" stroke="#efefef" stroke-width="0.35"/>
<polygon points="164.1,242.8 167.0,239.3 163.8,186.5 160.9,189.9" fill="#bcbcbc"/>
<polygon points="154.6,188.6 160.9,189.9 163.8,186.5 157.6,185.3" fill="#c8c8c8" stroke="#c8c8c8" stroke-width="0.35"/>
<polygon points="174.6,244.9 180.7,246.2 183.5,242.7 180.8,189.8 174.5,188.6 171.6,191.9" fill="#bcbcbc"/>
<polygon points="174.6,244.9 180.7,246.2 177.9,193.2 171.6,191.9" fill="#efefef" stroke="#efefef" stroke-width="0.35"/>
<polygon points="180.7,246.2 183.5,242.7 180.8,189.8 177.9,193.2" fill="#bcbcbc"/>
<polygon points="171.6,191.9 177.9,193.2 180.8,189.8 174.5,188.6" fill="#c8c8c8" stroke="#c8c8c8" stroke-width="0.35"/>
<polygon points="191.3,248.4 197.5,249.7 200.2,246.1 197.9,193.1 191.5,191.8 188.7,195.2" fill="#bcbcbc"/>
<polygon points="191.3,248.4 197.5,249.7 195.1,196.5 188.7,195.2" fill="#efefef" stroke="#efefef" stroke-width="0.35"/>
<polygon points="197.5,249.7 200.2,246.1 197.9,193.1 195.1,196.5" fill="#bcbcbc"/>
<polygon points="188.7,195.2 195.1,196.5 197.9,193.1 191.5,191.8" fill="#c8c8c8" stroke="#c8c8c8" stroke-width="0.35"/>
<polygon points="208.1,251.9 214.4,253.2 217.0,249.6 215.1,196.4 208.7,195.2 206.0,198.6" fill="#bcbcbc"/>
<polygon points="208.1,251.9 214.4,253.2 212.4,199.8 206.0,198.6" fill="#efefef" stroke="#efefef" stroke-width="0.35"/>
<polygon points="214.4,253.2 217.0,249.6 215.1,196.4 212.4,199.8" fill="#bcbcbc"/>
<polygon points="206.0,198.6 212.4,199.8 215.1,196.4 208.7,195.2" fill="#c8c8c8" stroke="#c8c8c8" stroke-width="0.35"/>
<polygon points="225.1,255.4 231.4,256.7 234.0,253.1 232.5,199.7 226.1,198.5 223.4,202.0" fill="#bcbcbc"/>
<polygon points="225.1,255.4 231.4,256.7 229.9,203.2 223.4,202.0" fill="#efefef" stroke="#efefef" stroke-width="0.35"/>
<polygon points="231.4,256.7 234.0,253.1 232.5,199.7 229.9,203.2" fill="#bcbcbc"/>
<polygon points="223.4,202.0 229.9,203.2 232.5,199.7 226.1,198.5" fill="#c8c8c8" stroke="#c8c8c8" stroke-width="0.35"/>
<polygon points="242.3,259.0 248.6,260.3 251.2,256.6 250.1,203.1 243.6,201.9 241.0,205.4" fill="#bcbcbc"/>
<polygon points="242.3,259.0 248.6,260.3 247.5,206.6 241.0,205.4" fill="#efefef" stroke="#efefef" stroke-width="0.35"/>
<polygon points="248.6,260.3 251.2,256.6 250.1,203.1 247.5,206.6" fill="#bcbcbc"/>
<polygon points="241.0,205.4 247.5,206.6 250.1,203.1 243.6,201.9" fill="#c8c8c8" stroke="#c8c8c8" stroke-width="0.35"/>
<polygon points="259.6,262.6 266.0,263.9 268.4,260.2 267.8,206.5 261.3,205.3 258.7,208.8" fill="#bcbcbc"/>
<polygon points="259.6,262.6 266.0,263.9 265.3,210.1 258.7,208.8" fill="#efefef" stroke="#efefef" stroke-width="0.35"/>
<polygon points="266.0,263.9 268.4,260.2 267.8,206.5 265.3,210.1" fill="#bcbcbc"/>
<polygon points="258.7,208.8 265.3,210.1 267.8,206.5 261.3,205.3" fill="#c8c8c8" stroke="#c8c8c8" stroke-width="0.35"/>
<polygon points="277.0,266.2 283.5,267.5 285.9,263.8 285.7,210.0 279.1,208.7 276.6,212.3" fill="#bcbcbc"/>
<polygon points="277.0,266.2 283.5,267.5 283.3,213.5 276.6,212.3" fill="#efefef" stroke="#efefef" stroke-width="0.35"/>
<polygon points="283.5,267.5 285.9,263.8 285.7,210.0 283.3,213.5" fill="#bcbcbc"/>
<polygon points="276.6,212.3 283.3,213.5 285.7,210.0 279.1,208.7" fill="#c8c8c8" stroke="#c8c8c8" stroke-width="0.35"/>
<polygon points="294.6,269.8 301.2,271.2 303.5,267.4 303.8,213.5 297.1,212.2 294.7,215.8" fill="#bcbcbc"/>
<polygon points="294.6,269.8 301.2,271.2 301.4,217.1 294.7,215.8" fill="#efefef" stroke="#efefef" stroke-width="0.35"/>
<polygon points="301.2,271.2 303.5,267.4 303.8,213.5 301.4,217.1" fill="#bcbcbc"/>
<polygon points="294.7,215.8 301.4,217.1 303.8,213.5 297.1,212.2" fill="#c8c8c8" stroke="#c8c8c8" stroke-width="0.35"/>
<polygon points="312.4,273.5 319.0,274.9 321.2,271.1 322.0,217.0 315.2,215.7 312.9,219.3" fill="#bcbcbc"/>
<polygon points="312.4,273.5 319.0,274.9 319.7,220.6 312.9,219.3" fill="#efefef" stroke="#efefef" stroke-width="0.35"/>
<polygon points="319.0,274.9 321.2,271.1 322.0,217.0 319.7,220.6" fill="#bcbcbc"/>
<polygon points="312.9,219.3 319.7,220.6 322.0,217.0 315.2,215.7" fill="#c8c8c8" stroke="#c8c8c8" stroke-width="0.35"/>
<polygon points="330.3,277.2 337.0,278.6 339.1,274.8 340.4,220.5 333.6,219.2 331.3,222.8" fill="#bcbcbc"/>
<polygon points="330.3,277.2 337.0,278.6 338.2,224.2 331.3,222.8" fill="#efefef" stroke="#efefef" stroke-width="0.35"/>
<polygon points="337.0,278.6 339.1,274.8 340.4,220.5 338.2,224.2" fill="#bcbcbc"/>
<polygon points="331.3,222.8 338.2,224.2 340.4,220.5 333.6,219.2" fill="#c8c8c8" stroke="#c8c8c8" stroke-width="0.35"/>
<polygon points="348.4,280.9 355.1,282.3 357.2,278.5 358.9,224.1 352.1,222.7 349.9,226.4" fill="#bcbcbc"/>
<polygon points="348.4,280.9 355.1,282.3 356.8,227.8 349.9,226.4" fill="#efefef" stroke="#efefef" stroke-width="0.35"/>
<polygon points="355.1,282.3 357.2,278.5 358.9,224.1 356.8,227.8" fill="#bcbcbc"/>
<polygon points="349.9,226.4 356.8,227.8 358.9,224.1 352.1,222.7" fill="#c8c8c8" stroke="#c8c8c8" stroke-width="0.35"/>
<polygon points="366.6,284.7 373.4,286.1 375.4,282.2 377.7,227.7 370.7,226.3 368.6,230.1" fill="#bcbcbc"/>
<polygon points="366.6,284.7 373.4,286.1 375.6,231.4 368.6,230.1" fill="#efefef" stroke="#efefef" stroke-width="0.35"/>
<polygon points="373.4,286.1 375.4,282.2 377.7,227.7 375.6,231.4" fill="#bcbcbc"/>
<polygon points="368.6,230.1 375.6,231.4 377.7,227.7 370.7,226.3" fill="#c8c8c8" stroke="#c8c8c8" stroke-width="0.35"/>
<polygon points="385.0,288.5 391.9,290.0 393.8,286.0 396.6,231.3 389.6,230.0 387.6,233.7" fill="#bcbcbc"/>
<polygon points="385.0,288.5 391.9,290.0 394.6,235.1 387.6,233.7" fill="#efefef" stroke="#efefef" stroke-width="0.35"/>
<polygon points="391.9,290.0 393.8,286.0 396.6,231.3 394.6,235.1" fill="#bcbcbc"/>
<polygon points="387.6,233.7 394.6,235.1 396.6,231.3 389.6,230.0" fill="#c8c8c8" stroke="#c8c8c8" stroke-width="0.35"/>
<polygon points="403.6,292.4 410.5,293.8 412.4,289.9 415.7,235.0 408.6,233.6 406.7,237.4" fill="#bcbcbc"/>
<polygon points="403.6,292.4 410.5,293.8 413.8,238.8 406.7,237.4" fill="#efefef" stroke="#efefef" stroke-width="0.35"/>
<polygon points="410.5,293.8 412.4,289.9 415.7,235.0 413.8,238.8" fill="#bcbcbc"/>
<polygon points="406.7,237.4 413.8,238.8 415.7,235.0 408.6,233.6" fill="#c8c8c8" stroke="#c8c8c8" stroke-width="0.35"/>
<polygon points="422.4,296.3 429.4,297.7 431.1,293.7 434.9,238.7 427.8,237.3 425.9,241.2" fill="#bcbcbc"/>
<polygon points="422.4,296.3 429.4,297.7 433.1,242.5 425.9,241.2" fill="#efefef" stroke="#efefef" stroke-width="0.35"/>
<polygon points="429.4,297.7 431.1,293.7 434.9,238.7 433.1,242.5" fill="#bcbcbc"/>
<polygon points="425.9,241.2 433.1,242.5 434.9,238.7 427.8,237.3" fill="#c8c8c8" stroke="#c8c8c8" stroke-width="0.35"/>
<polygon points="441.3,300.2 448.4,301.7 450.1,297.6 454.4,242.4 447.1,241.0 445.4,244.9" fill="#bcbcbc"/>
<polygon points="441.3,300.2 448.4,301.7 452.6,246.3 445.4,244.9" fill="#efefef" stroke="#efefef" stroke-width="0.35"/>
<polygon points="448.4,301.7 450.1,297.6 454.4,242.4 452.6,246.3" fill="#bcbcbc"/>
<polygon points="445.4,244.9 452.6,246.3 454.4,242.4 447.1,241.0" fill="#c8c8c8" stroke="#c8c8c8" stroke-width="0.35"/>
<polygon points="460.4,304.2 467.5,305.6 469.1,301.5 474.0,246.2 466.7,244.8 465.0,248.7" fill="#bcbcbc"/>
<polygon points="460.4,304.2 467.5,305.6 472.4,250.1 465.0,248.7" fill="#efefef" stroke="#efefef" stroke-width="0.35"/>
<polygon points="467.5,305.6 469.1,301.5 474.0,246.2 472.4,250.1" fill="#bcbcbc"/>
<polygon points="465.0,248.7 472.4,250.1 474.0,246.2 466.7,244.8" fill="#c8c8c8" stroke="#c8c8c8" stroke-width="0.35"/>
<path d="M69.59 226.64L52.10 61.73M65.09 226.64L69.59 226.64M66.45 221.53L69.05 221.53M65.90 216.40L68.50 216.40M65.36 211.24L67.96 211.24M64.81 206.05L67.41 206.05M62.36 200.85L66.86 200.85M63.70 195.61L66.30 195.61M63.14 190.35L65.74 190.35M62.58 185.06L65.18 185.06M62.02 179.75L64.62 179.75M59.55 174.41L64.05 174.41M60.88 169.04L63.48 169.04M60.31 163.65L62.91 163.65M59.73 158.23L62.33 158.23M59.16 152.78L61.76 152.78M56.68 147.31L61.18 147.31M57.99 141.80L60.59 141.80M57.41 136.27L60.01 136.27M56.82 130.71L59.42 130.71M56.22 125.13L58.82 125.13M53.73 119.51L58.23 119.51M55.03 113.87L57.63 113.87M54.43 108.19L57.03 108.19M53.82 102.49L56.42 102.49M53.21 96.76L55.81 96.76M50.70 90.99L55.20 90.99M51.99 85.20L54.59 85.20M51.37 79.38L53.97 79.38M50.75 73.53L53.35 73.53M50.13 67.65L52.73 67.65M47.60 61.73L52.10 61.73" stroke="#000" stroke-width="1.6" fill="none"/>
<path d="M69.59 226.64L472.24 310.40M69.59 226.64L69.59 231.04M85.47 229.94L85.47 234.34M101.48 233.27L101.48 237.67M117.62 236.63L117.62 241.03M133.91 240.02L133.91 244.42M150.33 243.44L150.33 247.84M166.90 246.88L166.90 251.28M183.61 250.36L183.61 254.76M200.47 253.87L200.47 258.27M217.48 257.40L217.48 261.80M234.63 260.97L234.63 265.37M251.94 264.57L251.94 268.97M269.40 268.20L269.40 272.60M287.02 271.87L287.02 276.27M304.79 275.57L304.79 279.97M322.73 279.30L322.73 283.70M340.82 283.06L340.82 287.46M359.09 286.86L359.09 291.26M377.51 290.70L377.51 295.10M396.11 294.56L396.11 298.96M414.88 298.47L414.88 302.87M433.82 302.41L433.82 306.81M452.94 306.39L452.94 310.79M472.24 310.40L472.24 314.80M472.24 310.40L503.63 229.24M472.24 310.40L476.24 310.40M476.52 299.33L480.52 299.33M480.69 288.55L484.69 288.55M484.75 278.04L488.75 278.04M488.72 267.79L492.72 267.79M492.58 257.80L496.58 257.80M496.35 248.04L500.35 248.04M500.03 238.53L504.03 238.53M503.63 229.24L507.63 229.24" stroke="#000" stroke-width="1.3" fill="none"/>
<text x="57.7" y="231.1" font-family="Liberation Serif, serif" font-weight="bold" font-size="11.5" text-anchor="end">0</text>
<text x="55.0" y="205.3" font-family="Liberation Serif, serif" font-weight="bold" font-size="11.5" text-anchor="end">50</text>
<text x="52.2" y="178.9" font-family="Liberation Serif, serif" font-weight="bold" font-size="11.5" text-anchor="end">100</text>
<text x="49.3" y="151.8" font-family="Liberation Serif, serif" font-weight="bold" font-size="11.5" text-anchor="end">150</text>
<text x="46.3" y="124.0" font-family="Liberation Serif, serif" font-weight="bold" font-size="11.5" text-anchor="end">200</text>
<text x="43.3" y="95.5" font-family="Liberation Serif, serif" font-weight="bold" font-size="11.5" text-anchor="end">250</text>
<text x="40.2" y="66.2" font-family="Liberation Serif, serif" font-weight="bold" font-size="11.5" text-anchor="end">300</text>
<text transform="translate(81.5 235.8) rotate(-90)" font-family="Liberation Serif, serif" font-weight="bold" font-size="12.16" text-anchor="end">acetone (N88)</text>
<text transform="translate(97.5 239.1) rotate(-90)" font-family="Liberation Serif, serif" font-weight="bold" font-size="12.07" text-anchor="end">acetonitrile (H42)</text>
<text transform="translate(113.5 242.4) rotate(-90)" font-family="Liberation Serif, serif" font-weight="bold" font-size="12.37" text-anchor="end">benzene (N78)</text>
<text transform="translate(129.7 245.8) rotate(-90)" font-family="Liberation Serif, serif" font-weight="bold" font-size="12.32" text-anchor="end">benzene (N108)</text>
<text transform="translate(146.1 249.2) rotate(-90)" font-family="Liberation Serif, serif" font-weight="bold" font-size="12.46" text-anchor="end">benzene (O78)</text>
<text transform="translate(162.6 252.7) rotate(-90)" font-family="Liberation Serif, serif" font-weight="bold" font-size="12.26" text-anchor="end">1-butanol (N73)</text>
<text transform="translate(179.2 256.1) rotate(-90)" font-family="Liberation Serif, serif" font-weight="bold" font-size="12.11" text-anchor="end">chloroform (O83)</text>
<text transform="translate(196.0 259.6) rotate(-90)" font-family="Liberation Serif, serif" font-weight="bold" font-size="12.13" text-anchor="end">chloroform (O85)</text>
<text transform="translate(213.0 263.1) rotate(-90)" font-family="Liberation Serif, serif" font-weight="bold" font-size="12.37" text-anchor="end">isooctane (H113)</text>
<text transform="translate(230.0 266.7) rotate(-90)" font-family="Liberation Serif, serif" font-weight="bold" font-size="12.44" text-anchor="end">isooctane (N113)</text>
<text transform="translate(247.3 270.3) rotate(-90)" font-family="Liberation Serif, serif" font-weight="bold" font-size="12.49" text-anchor="end">isopropyl alcohol (H43)</text>
<text transform="translate(264.7 273.9) rotate(-90)" font-family="Liberation Serif, serif" font-weight="bold" font-size="12.55" text-anchor="end">isopropyl alcohol (N59)</text>
<text transform="translate(282.2 277.5) rotate(-90)" font-family="Liberation Serif, serif" font-weight="bold" font-size="12.33" text-anchor="end">methanol (H33)</text>
<text transform="translate(299.9 281.2) rotate(-90)" font-family="Liberation Serif, serif" font-weight="bold" font-size="12.52" text-anchor="end">methyl ethyl ketone (N102)</text>
<text transform="translate(317.7 284.9) rotate(-90)" font-family="Liberation Serif, serif" font-weight="bold" font-size="12.50" text-anchor="end">methyl ethyl ketone (O72)</text>
<text transform="translate(335.8 288.7) rotate(-90)" font-family="Liberation Serif, serif" font-weight="bold" font-size="12.26" text-anchor="end">nitromethane (H62)</text>
<text transform="translate(353.9 292.5) rotate(-90)" font-family="Liberation Serif, serif" font-weight="bold" font-size="12.12" text-anchor="end">propanal (N57)</text>
<text transform="translate(372.3 296.3) rotate(-90)" font-family="Liberation Serif, serif" font-weight="bold" font-size="12.07" text-anchor="end">tetrahydrofuran (N71)</text>
<text transform="translate(390.8 300.1) rotate(-90)" font-family="Liberation Serif, serif" font-weight="bold" font-size="12.11" text-anchor="end">tetrahydrofuran (O71)</text>
<text transform="translate(409.5 304.0) rotate(-90)" font-family="Liberation Serif, serif" font-weight="bold" font-size="12.55" text-anchor="end">toluene (N92)</text>
<text transform="translate(428.3 307.9) rotate(-90)" font-family="Liberation Serif, serif" font-weight="bold" font-size="12.36" text-anchor="end">toluene (O92)</text>
<text transform="translate(447.4 311.9) rotate(-90)" font-family="Liberation Serif, serif" font-weight="bold" font-size="12.34" text-anchor="end">trichloroethylene (O130)</text>
<text transform="translate(466.6 315.9) rotate(-90)" font-family="Liberation Serif, serif" font-weight="bold" font-size="12.41" text-anchor="end">trichloroethylene (O132)</text>
<text x="483.7" y="309.0" font-family="Liberation Serif, serif" font-weight="bold" font-size="9.8">0%</text>
<text x="487.9" y="298.1" font-family="Liberation Serif, serif" font-weight="bold" font-size="9.8">2%</text>
<text x="492.0" y="287.4" font-family="Liberation Serif, serif" font-weight="bold" font-size="9.8">4%</text>
<text x="496.0" y="277.0" font-family="Liberation Serif, serif" font-weight="bold" font-size="9.8">6%</text>
<text x="500.0" y="266.9" font-family="Liberation Serif, serif" font-weight="bold" font-size="9.8">8%</text>
<text x="503.8" y="257.0" font-family="Liberation Serif, serif" font-weight="bold" font-size="9.8">10%</text>
<text x="507.5" y="247.4" font-family="Liberation Serif, serif" font-weight="bold" font-size="9.8">12%</text>
<text x="511.1" y="238.0" font-family="Liberation Serif, serif" font-weight="bold" font-size="9.8">14%</text>
<text transform="translate(16.1 142.6) rotate(-90)" font-family="Liberation Serif, serif" font-weight="bold" font-size="12.45" text-anchor="middle">Response Normalized to Neat DMI / %</text>
<text x="261.9" y="449.2" font-family="Liberation Serif, serif" font-weight="bold" font-size="12.27" text-anchor="middle">Analyte (Reagent Ion-Product Ion)</text>
<text transform="translate(545.3 274.5) rotate(-90)" font-family="Liberation Serif, serif" font-weight="bold" font-size="11.83" text-anchor="middle">Water % in DMI</text>
</svg></body></html>
